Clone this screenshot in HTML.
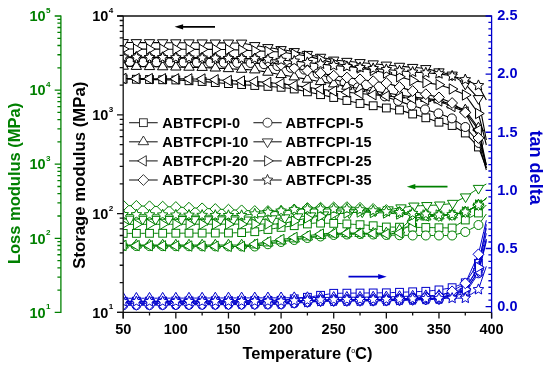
<!DOCTYPE html>
<html><head><meta charset="utf-8"><style>
html,body{margin:0;padding:0;background:#fff;}
svg{display:block;}
</style></head><body>
<svg width="550" height="367" viewBox="0 0 550 367">
<rect width="550" height="367" fill="#fff"/>
<defs><clipPath id="pc"><rect x="123.2" y="16" width="368.4" height="296.4"/></clipPath></defs>
<g clip-path="url(#pc)">
<polyline points="123.2,79 125.83,79.05 128.46,79.1 131.09,79.15 133.73,79.2 136.36,79.25 138.99,79.3 141.62,79.35 144.25,79.4 146.88,79.45 149.51,79.5 152.15,79.55 154.78,79.6 157.41,79.65 160.04,79.7 162.67,79.75 165.3,79.8 167.93,79.85 170.57,79.9 173.2,79.95 175.83,80 178.46,80.15 181.09,80.3 183.72,80.45 186.35,80.6 188.99,80.75 191.62,80.9 194.25,81.05 196.88,81.2 199.51,81.35 202.14,81.5 204.77,81.71 207.41,81.92 210.04,82.13 212.67,82.34 215.3,82.55 217.93,82.76 220.56,82.97 223.19,83.18 225.83,83.39 228.46,83.6 231.09,83.79 233.72,83.98 236.35,84.17 238.98,84.36 241.61,84.55 244.25,84.74 246.88,84.93 249.51,85.12 252.14,85.31 254.77,85.5 257.4,85.68 260.03,85.86 262.67,86.04 265.3,86.22 267.93,86.4 270.56,86.58 273.19,86.76 275.82,86.94 278.45,87.12 281.09,87.3 283.72,87.64 286.35,87.98 288.98,88.32 291.61,88.66 294.24,89 296.87,89.57 299.51,90.13 302.14,90.7 304.77,91.27 307.4,91.83 310.03,92.4 312.66,92.97 315.29,93.53 317.93,94.1 320.56,94.67 323.19,95.23 325.82,95.8 328.45,96.37 331.08,96.93 333.71,97.5 336.35,98.1 338.98,98.7 341.61,99.3 344.24,99.9 346.87,100.5 349.5,101.1 352.13,101.7 354.77,102.3 357.4,102.9 360.03,103.5 362.66,103.95 365.29,104.4 367.92,104.85 370.55,105.3 373.19,105.75 375.82,106.2 378.45,106.65 381.08,107.1 383.71,107.55 386.34,108 388.97,108.4 391.61,108.8 394.24,109.2 396.87,109.6 399.5,110 402.13,110.8 404.76,111.6 407.39,112.4 410.03,113.2 412.66,114 415.29,114.76 417.92,115.52 420.55,116.28 423.18,117.04 425.81,117.8 428.45,118.68 431.08,119.56 433.71,120.44 436.34,121.32 438.97,122.2 441.6,122.86 444.23,123.52 446.87,124.18 449.5,124.84 452.13,125.5 454.76,127 457.39,128.5 460.02,130 462.65,131.5 465.29,133 467.92,135.8 470.55,138.6 473.18,141.4 475.81,144.2 478.44,147 481.07,154 483.71,161 486.34,168" fill="none" stroke="#000" stroke-width="1.1"/>
<rect x="119.3" y="75.1" width="7.8" height="7.8" fill="#fff" stroke="#000" stroke-width="1.0"/>
<rect x="132.46" y="75.35" width="7.8" height="7.8" fill="#fff" stroke="#000" stroke-width="1.0"/>
<rect x="145.61" y="75.6" width="7.8" height="7.8" fill="#fff" stroke="#000" stroke-width="1.0"/>
<rect x="158.77" y="75.85" width="7.8" height="7.8" fill="#fff" stroke="#000" stroke-width="1.0"/>
<rect x="171.93" y="76.1" width="7.8" height="7.8" fill="#fff" stroke="#000" stroke-width="1.0"/>
<rect x="185.09" y="76.85" width="7.8" height="7.8" fill="#fff" stroke="#000" stroke-width="1.0"/>
<rect x="198.24" y="77.6" width="7.8" height="7.8" fill="#fff" stroke="#000" stroke-width="1.0"/>
<rect x="211.4" y="78.65" width="7.8" height="7.8" fill="#fff" stroke="#000" stroke-width="1.0"/>
<rect x="224.56" y="79.7" width="7.8" height="7.8" fill="#fff" stroke="#000" stroke-width="1.0"/>
<rect x="237.71" y="80.65" width="7.8" height="7.8" fill="#fff" stroke="#000" stroke-width="1.0"/>
<rect x="250.87" y="81.6" width="7.8" height="7.8" fill="#fff" stroke="#000" stroke-width="1.0"/>
<rect x="264.03" y="82.5" width="7.8" height="7.8" fill="#fff" stroke="#000" stroke-width="1.0"/>
<rect x="277.19" y="83.4" width="7.8" height="7.8" fill="#fff" stroke="#000" stroke-width="1.0"/>
<rect x="290.34" y="85.1" width="7.8" height="7.8" fill="#fff" stroke="#000" stroke-width="1.0"/>
<rect x="303.5" y="87.93" width="7.8" height="7.8" fill="#fff" stroke="#000" stroke-width="1.0"/>
<rect x="316.66" y="90.77" width="7.8" height="7.8" fill="#fff" stroke="#000" stroke-width="1.0"/>
<rect x="329.81" y="93.6" width="7.8" height="7.8" fill="#fff" stroke="#000" stroke-width="1.0"/>
<rect x="342.97" y="96.6" width="7.8" height="7.8" fill="#fff" stroke="#000" stroke-width="1.0"/>
<rect x="356.13" y="99.6" width="7.8" height="7.8" fill="#fff" stroke="#000" stroke-width="1.0"/>
<rect x="369.29" y="101.85" width="7.8" height="7.8" fill="#fff" stroke="#000" stroke-width="1.0"/>
<rect x="382.44" y="104.1" width="7.8" height="7.8" fill="#fff" stroke="#000" stroke-width="1.0"/>
<rect x="395.6" y="106.1" width="7.8" height="7.8" fill="#fff" stroke="#000" stroke-width="1.0"/>
<rect x="408.76" y="110.1" width="7.8" height="7.8" fill="#fff" stroke="#000" stroke-width="1.0"/>
<rect x="421.91" y="113.9" width="7.8" height="7.8" fill="#fff" stroke="#000" stroke-width="1.0"/>
<rect x="435.07" y="118.3" width="7.8" height="7.8" fill="#fff" stroke="#000" stroke-width="1.0"/>
<rect x="448.23" y="121.6" width="7.8" height="7.8" fill="#fff" stroke="#000" stroke-width="1.0"/>
<rect x="461.39" y="129.1" width="7.8" height="7.8" fill="#fff" stroke="#000" stroke-width="1.0"/>
<rect x="474.54" y="143.1" width="7.8" height="7.8" fill="#fff" stroke="#000" stroke-width="1.0"/>
<polyline points="123.2,62 125.83,62.02 128.46,62.04 131.09,62.06 133.73,62.08 136.36,62.1 138.99,62.12 141.62,62.14 144.25,62.16 146.88,62.18 149.51,62.2 152.15,62.22 154.78,62.24 157.41,62.26 160.04,62.28 162.67,62.3 165.3,62.32 167.93,62.34 170.57,62.36 173.2,62.38 175.83,62.4 178.46,62.42 181.09,62.44 183.72,62.46 186.35,62.48 188.99,62.5 191.62,62.52 194.25,62.54 196.88,62.56 199.51,62.58 202.14,62.6 204.77,62.62 207.41,62.64 210.04,62.66 212.67,62.68 215.3,62.7 217.93,62.72 220.56,62.74 223.19,62.76 225.83,62.78 228.46,62.8 231.09,62.82 233.72,62.84 236.35,62.86 238.98,62.88 241.61,62.9 244.25,62.92 246.88,62.94 249.51,62.96 252.14,62.98 254.77,63 257.4,63.35 260.03,63.7 262.67,64.05 265.3,64.4 267.93,64.75 270.56,65.1 273.19,65.45 275.82,65.8 278.45,66.15 281.09,66.5 283.72,66.85 286.35,67.2 288.98,67.55 291.61,67.9 294.24,68.25 296.87,68.6 299.51,68.95 302.14,69.3 304.77,69.65 307.4,70 310.03,70.9 312.66,71.8 315.29,72.7 317.93,73.6 320.56,74.5 323.19,75.4 325.82,76.3 328.45,77.2 331.08,78.1 333.71,79 336.35,79.9 338.98,80.8 341.61,81.7 344.24,82.6 346.87,83.5 349.5,84.4 352.13,85.3 354.77,86.2 357.4,87.1 360.03,88 362.66,88.89 365.29,89.78 367.92,90.67 370.55,91.56 373.19,92.45 375.82,93.34 378.45,94.23 381.08,95.12 383.71,96.01 386.34,96.9 388.97,97.79 391.61,98.68 394.24,99.57 396.87,100.46 399.5,101.35 402.13,102.24 404.76,103.13 407.39,104.02 410.03,104.91 412.66,105.8 415.29,106.57 417.92,107.34 420.55,108.11 423.18,108.88 425.81,109.65 428.45,110.42 431.08,111.19 433.71,111.96 436.34,112.73 438.97,113.5 441.6,114.5 444.23,115.5 446.87,116.5 449.5,117.5 452.13,118.5 454.76,120.2 457.39,121.9 460.02,123.6 462.65,125.3 465.29,127 467.92,130 470.55,133 473.18,136 475.81,139 478.44,142 481.07,151.33 483.71,160.67 486.34,170" fill="none" stroke="#000" stroke-width="1.1"/>
<circle cx="129.78" cy="62.05" r="4.5" fill="#fff" stroke="#000" stroke-width="1.0"/>
<circle cx="143.2" cy="62.15" r="4.5" fill="#fff" stroke="#000" stroke-width="1.0"/>
<circle cx="156.62" cy="62.25" r="4.5" fill="#fff" stroke="#000" stroke-width="1.0"/>
<circle cx="170.04" cy="62.36" r="4.5" fill="#fff" stroke="#000" stroke-width="1.0"/>
<circle cx="183.46" cy="62.46" r="4.5" fill="#fff" stroke="#000" stroke-width="1.0"/>
<circle cx="196.88" cy="62.56" r="4.5" fill="#fff" stroke="#000" stroke-width="1.0"/>
<circle cx="210.3" cy="62.66" r="4.5" fill="#fff" stroke="#000" stroke-width="1.0"/>
<circle cx="223.72" cy="62.76" r="4.5" fill="#fff" stroke="#000" stroke-width="1.0"/>
<circle cx="237.14" cy="62.87" r="4.5" fill="#fff" stroke="#000" stroke-width="1.0"/>
<circle cx="250.56" cy="62.97" r="4.5" fill="#fff" stroke="#000" stroke-width="1.0"/>
<circle cx="263.98" cy="64.22" r="4.5" fill="#fff" stroke="#000" stroke-width="1.0"/>
<circle cx="277.4" cy="66.01" r="4.5" fill="#fff" stroke="#000" stroke-width="1.0"/>
<circle cx="290.82" cy="67.8" r="4.5" fill="#fff" stroke="#000" stroke-width="1.0"/>
<circle cx="304.24" cy="69.58" r="4.5" fill="#fff" stroke="#000" stroke-width="1.0"/>
<circle cx="317.66" cy="73.51" r="4.5" fill="#fff" stroke="#000" stroke-width="1.0"/>
<circle cx="331.08" cy="78.1" r="4.5" fill="#fff" stroke="#000" stroke-width="1.0"/>
<circle cx="344.5" cy="82.69" r="4.5" fill="#fff" stroke="#000" stroke-width="1.0"/>
<circle cx="357.92" cy="87.28" r="4.5" fill="#fff" stroke="#000" stroke-width="1.0"/>
<circle cx="371.34" cy="91.83" r="4.5" fill="#fff" stroke="#000" stroke-width="1.0"/>
<circle cx="384.76" cy="96.37" r="4.5" fill="#fff" stroke="#000" stroke-width="1.0"/>
<circle cx="398.18" cy="100.91" r="4.5" fill="#fff" stroke="#000" stroke-width="1.0"/>
<circle cx="411.6" cy="105.44" r="4.5" fill="#fff" stroke="#000" stroke-width="1.0"/>
<circle cx="425.02" cy="109.42" r="4.5" fill="#fff" stroke="#000" stroke-width="1.0"/>
<circle cx="438.45" cy="113.35" r="4.5" fill="#fff" stroke="#000" stroke-width="1.0"/>
<circle cx="451.87" cy="118.4" r="4.5" fill="#fff" stroke="#000" stroke-width="1.0"/>
<circle cx="465.29" cy="127" r="4.5" fill="#fff" stroke="#000" stroke-width="1.0"/>
<circle cx="478.71" cy="142.93" r="4.5" fill="#fff" stroke="#000" stroke-width="1.0"/>
<polyline points="123.2,66.3 125.83,66.34 128.46,66.38 131.09,66.42 133.73,66.46 136.36,66.5 138.99,66.54 141.62,66.58 144.25,66.62 146.88,66.66 149.51,66.7 152.15,66.74 154.78,66.78 157.41,66.82 160.04,66.86 162.67,66.9 165.3,66.94 167.93,66.98 170.57,67.02 173.2,67.06 175.83,67.1 178.46,67.14 181.09,67.18 183.72,67.22 186.35,67.26 188.99,67.3 191.62,67.34 194.25,67.38 196.88,67.42 199.51,67.46 202.14,67.5 204.77,67.62 207.41,67.75 210.04,67.88 212.67,68 215.3,68.12 217.93,68.25 220.56,68.38 223.19,68.5 225.83,68.62 228.46,68.75 231.09,68.88 233.72,69 236.35,69.12 238.98,69.25 241.61,69.38 244.25,69.5 246.88,69.62 249.51,69.75 252.14,69.88 254.77,70 257.4,70.47 260.03,70.93 262.67,71.4 265.3,71.87 267.93,72.33 270.56,72.8 273.19,73.27 275.82,73.73 278.45,74.2 281.09,74.67 283.72,75.13 286.35,75.6 288.98,76.07 291.61,76.53 294.24,77 296.87,77.47 299.51,77.93 302.14,78.4 304.77,78.87 307.4,79.33 310.03,79.8 312.66,80.27 315.29,80.73 317.93,81.2 320.56,81.67 323.19,82.13 325.82,82.6 328.45,83.07 331.08,83.53 333.71,84 336.35,84.47 338.98,84.93 341.61,85.4 344.24,85.87 346.87,86.33 349.5,86.8 352.13,87.27 354.77,87.73 357.4,88.2 360.03,88.67 362.66,89.13 365.29,89.6 367.92,90.07 370.55,90.53 373.19,91 375.82,91.4 378.45,91.8 381.08,92.2 383.71,92.6 386.34,93 388.97,93.4 391.61,93.8 394.24,94.2 396.87,94.6 399.5,95 402.13,95.4 404.76,95.8 407.39,96.2 410.03,96.6 412.66,97 415.29,97.3 417.92,97.6 420.55,97.9 423.18,98.2 425.81,98.5 428.45,98.8 431.08,99.1 433.71,99.4 436.34,99.7 438.97,100 441.6,101 444.23,102 446.87,103 449.5,104 452.13,105 454.76,106 457.39,107 460.02,108 462.65,109 465.29,110 467.92,113.6 470.55,117.2 473.18,120.8 475.81,124.4 478.44,128 481.07,140.33 483.71,152.67 486.34,165" fill="none" stroke="#000" stroke-width="1.1"/>
<polygon points="123.2,60.5 128.4,69.2 118,69.2" fill="#fff" stroke="#000" stroke-width="1.0"/>
<polygon points="136.36,60.7 141.56,69.4 131.16,69.4" fill="#fff" stroke="#000" stroke-width="1.0"/>
<polygon points="149.51,60.9 154.71,69.6 144.31,69.6" fill="#fff" stroke="#000" stroke-width="1.0"/>
<polygon points="162.67,61.1 167.87,69.8 157.47,69.8" fill="#fff" stroke="#000" stroke-width="1.0"/>
<polygon points="175.83,61.3 181.03,70 170.63,70" fill="#fff" stroke="#000" stroke-width="1.0"/>
<polygon points="188.99,61.5 194.19,70.2 183.79,70.2" fill="#fff" stroke="#000" stroke-width="1.0"/>
<polygon points="202.14,61.7 207.34,70.4 196.94,70.4" fill="#fff" stroke="#000" stroke-width="1.0"/>
<polygon points="215.3,62.33 220.5,71.03 210.1,71.03" fill="#fff" stroke="#000" stroke-width="1.0"/>
<polygon points="228.46,62.95 233.66,71.65 223.26,71.65" fill="#fff" stroke="#000" stroke-width="1.0"/>
<polygon points="241.61,63.58 246.81,72.28 236.41,72.28" fill="#fff" stroke="#000" stroke-width="1.0"/>
<polygon points="254.77,64.2 259.97,72.9 249.57,72.9" fill="#fff" stroke="#000" stroke-width="1.0"/>
<polygon points="267.93,66.53 273.13,75.23 262.73,75.23" fill="#fff" stroke="#000" stroke-width="1.0"/>
<polygon points="281.09,68.87 286.29,77.57 275.89,77.57" fill="#fff" stroke="#000" stroke-width="1.0"/>
<polygon points="294.24,71.2 299.44,79.9 289.04,79.9" fill="#fff" stroke="#000" stroke-width="1.0"/>
<polygon points="307.4,73.53 312.6,82.23 302.2,82.23" fill="#fff" stroke="#000" stroke-width="1.0"/>
<polygon points="320.56,75.87 325.76,84.57 315.36,84.57" fill="#fff" stroke="#000" stroke-width="1.0"/>
<polygon points="333.71,78.2 338.91,86.9 328.51,86.9" fill="#fff" stroke="#000" stroke-width="1.0"/>
<polygon points="346.87,80.53 352.07,89.23 341.67,89.23" fill="#fff" stroke="#000" stroke-width="1.0"/>
<polygon points="360.03,82.87 365.23,91.57 354.83,91.57" fill="#fff" stroke="#000" stroke-width="1.0"/>
<polygon points="373.19,85.2 378.39,93.9 367.99,93.9" fill="#fff" stroke="#000" stroke-width="1.0"/>
<polygon points="386.34,87.2 391.54,95.9 381.14,95.9" fill="#fff" stroke="#000" stroke-width="1.0"/>
<polygon points="399.5,89.2 404.7,97.9 394.3,97.9" fill="#fff" stroke="#000" stroke-width="1.0"/>
<polygon points="412.66,91.2 417.86,99.9 407.46,99.9" fill="#fff" stroke="#000" stroke-width="1.0"/>
<polygon points="425.81,92.7 431.01,101.4 420.61,101.4" fill="#fff" stroke="#000" stroke-width="1.0"/>
<polygon points="438.97,94.2 444.17,102.9 433.77,102.9" fill="#fff" stroke="#000" stroke-width="1.0"/>
<polygon points="452.13,99.2 457.33,107.9 446.93,107.9" fill="#fff" stroke="#000" stroke-width="1.0"/>
<polygon points="465.29,104.2 470.49,112.9 460.09,112.9" fill="#fff" stroke="#000" stroke-width="1.0"/>
<polygon points="478.44,122.2 483.64,130.9 473.24,130.9" fill="#fff" stroke="#000" stroke-width="1.0"/>
<polyline points="123.2,42.5 125.83,42.51 128.46,42.52 131.09,42.53 133.73,42.54 136.36,42.56 138.99,42.57 141.62,42.58 144.25,42.59 146.88,42.6 149.51,42.61 152.15,42.62 154.78,42.63 157.41,42.64 160.04,42.66 162.67,42.67 165.3,42.68 167.93,42.69 170.57,42.7 173.2,42.71 175.83,42.72 178.46,42.73 181.09,42.74 183.72,42.76 186.35,42.77 188.99,42.78 191.62,42.79 194.25,42.8 196.88,42.81 199.51,42.82 202.14,42.83 204.77,42.84 207.41,42.86 210.04,42.87 212.67,42.88 215.3,42.89 217.93,42.9 220.56,42.91 223.19,42.92 225.83,42.93 228.46,42.94 231.09,42.96 233.72,42.97 236.35,42.98 238.98,42.99 241.61,43 244.25,43.5 246.88,44 249.51,44.5 252.14,45 254.77,45.5 257.4,45.9 260.03,46.3 262.67,46.7 265.3,47.1 267.93,47.5 270.56,47.9 273.19,48.3 275.82,48.7 278.45,49.1 281.09,49.5 283.72,49.9 286.35,50.3 288.98,50.7 291.61,51.1 294.24,51.5 296.87,52.07 299.51,52.63 302.14,53.2 304.77,53.77 307.4,54.33 310.03,54.9 312.66,55.47 315.29,56.03 317.93,56.6 320.56,57.17 323.19,57.73 325.82,58.3 328.45,58.87 331.08,59.43 333.71,60 336.35,60.25 338.98,60.5 341.61,60.75 344.24,61 346.87,61.25 349.5,61.5 352.13,61.75 354.77,62 357.4,62.25 360.03,62.5 362.66,62.75 365.29,63 367.92,63.25 370.55,63.5 373.19,63.75 375.82,64 378.45,64.25 381.08,64.5 383.71,64.75 386.34,65 388.97,65.23 391.61,65.47 394.24,65.7 396.87,65.93 399.5,66.17 402.13,66.4 404.76,66.63 407.39,66.87 410.03,67.1 412.66,67.33 415.29,67.57 417.92,67.8 420.55,68.03 423.18,68.27 425.81,68.5 428.45,69.15 431.08,69.8 433.71,70.45 436.34,71.1 438.97,71.75 441.6,72.4 444.23,73.05 446.87,73.7 449.5,74.35 452.13,75 454.76,76.8 457.39,78.6 460.02,80.4 462.65,82.2 465.29,84 467.92,86.9 470.55,89.8 473.18,92.7 475.81,95.6 478.44,98.5 481.07,112.33 483.71,126.17 486.34,140" fill="none" stroke="#000" stroke-width="1.1"/>
<polygon points="123.2,48.3 128.4,39.6 118,39.6" fill="#fff" stroke="#000" stroke-width="1.0"/>
<polygon points="136.36,48.36 141.56,39.66 131.16,39.66" fill="#fff" stroke="#000" stroke-width="1.0"/>
<polygon points="149.51,48.41 154.71,39.71 144.31,39.71" fill="#fff" stroke="#000" stroke-width="1.0"/>
<polygon points="162.67,48.47 167.87,39.77 157.47,39.77" fill="#fff" stroke="#000" stroke-width="1.0"/>
<polygon points="175.83,48.52 181.03,39.82 170.63,39.82" fill="#fff" stroke="#000" stroke-width="1.0"/>
<polygon points="188.99,48.58 194.19,39.88 183.79,39.88" fill="#fff" stroke="#000" stroke-width="1.0"/>
<polygon points="202.14,48.63 207.34,39.93 196.94,39.93" fill="#fff" stroke="#000" stroke-width="1.0"/>
<polygon points="215.3,48.69 220.5,39.99 210.1,39.99" fill="#fff" stroke="#000" stroke-width="1.0"/>
<polygon points="228.46,48.74 233.66,40.04 223.26,40.04" fill="#fff" stroke="#000" stroke-width="1.0"/>
<polygon points="241.61,48.8 246.81,40.1 236.41,40.1" fill="#fff" stroke="#000" stroke-width="1.0"/>
<polygon points="254.77,51.3 259.97,42.6 249.57,42.6" fill="#fff" stroke="#000" stroke-width="1.0"/>
<polygon points="267.93,53.3 273.13,44.6 262.73,44.6" fill="#fff" stroke="#000" stroke-width="1.0"/>
<polygon points="281.09,55.3 286.29,46.6 275.89,46.6" fill="#fff" stroke="#000" stroke-width="1.0"/>
<polygon points="294.24,57.3 299.44,48.6 289.04,48.6" fill="#fff" stroke="#000" stroke-width="1.0"/>
<polygon points="307.4,60.13 312.6,51.43 302.2,51.43" fill="#fff" stroke="#000" stroke-width="1.0"/>
<polygon points="320.56,62.97 325.76,54.27 315.36,54.27" fill="#fff" stroke="#000" stroke-width="1.0"/>
<polygon points="333.71,65.8 338.91,57.1 328.51,57.1" fill="#fff" stroke="#000" stroke-width="1.0"/>
<polygon points="346.87,67.05 352.07,58.35 341.67,58.35" fill="#fff" stroke="#000" stroke-width="1.0"/>
<polygon points="360.03,68.3 365.23,59.6 354.83,59.6" fill="#fff" stroke="#000" stroke-width="1.0"/>
<polygon points="373.19,69.55 378.39,60.85 367.99,60.85" fill="#fff" stroke="#000" stroke-width="1.0"/>
<polygon points="386.34,70.8 391.54,62.1 381.14,62.1" fill="#fff" stroke="#000" stroke-width="1.0"/>
<polygon points="399.5,71.97 404.7,63.27 394.3,63.27" fill="#fff" stroke="#000" stroke-width="1.0"/>
<polygon points="412.66,73.13 417.86,64.43 407.46,64.43" fill="#fff" stroke="#000" stroke-width="1.0"/>
<polygon points="425.81,74.3 431.01,65.6 420.61,65.6" fill="#fff" stroke="#000" stroke-width="1.0"/>
<polygon points="438.97,77.55 444.17,68.85 433.77,68.85" fill="#fff" stroke="#000" stroke-width="1.0"/>
<polygon points="452.13,80.8 457.33,72.1 446.93,72.1" fill="#fff" stroke="#000" stroke-width="1.0"/>
<polygon points="465.29,89.8 470.49,81.1 460.09,81.1" fill="#fff" stroke="#000" stroke-width="1.0"/>
<polygon points="478.44,104.3 483.64,95.6 473.24,95.6" fill="#fff" stroke="#000" stroke-width="1.0"/>
<polyline points="123.2,78.5 125.83,78.52 128.46,78.53 131.09,78.55 133.73,78.57 136.36,78.58 138.99,78.6 141.62,78.62 144.25,78.63 146.88,78.65 149.51,78.67 152.15,78.68 154.78,78.7 157.41,78.72 160.04,78.73 162.67,78.75 165.3,78.77 167.93,78.78 170.57,78.8 173.2,78.82 175.83,78.83 178.46,78.85 181.09,78.87 183.72,78.88 186.35,78.9 188.99,78.92 191.62,78.93 194.25,78.95 196.88,78.97 199.51,78.98 202.14,79 204.77,79.15 207.41,79.3 210.04,79.45 212.67,79.6 215.3,79.75 217.93,79.9 220.56,80.05 223.19,80.2 225.83,80.35 228.46,80.5 231.09,80.6 233.72,80.7 236.35,80.8 238.98,80.9 241.61,81 244.25,81.1 246.88,81.2 249.51,81.3 252.14,81.4 254.77,81.5 257.4,81.71 260.03,81.92 262.67,82.13 265.3,82.34 267.93,82.55 270.56,82.76 273.19,82.97 275.82,83.18 278.45,83.39 281.09,83.6 283.72,83.98 286.35,84.36 288.98,84.74 291.61,85.12 294.24,85.5 296.87,85.87 299.51,86.23 302.14,86.6 304.77,86.97 307.4,87.33 310.03,87.7 312.66,88.07 315.29,88.43 317.93,88.8 320.56,89.17 323.19,89.53 325.82,89.9 328.45,90.27 331.08,90.63 333.71,91 336.35,91.25 338.98,91.5 341.61,91.75 344.24,92 346.87,92.25 349.5,92.5 352.13,92.75 354.77,93 357.4,93.25 360.03,93.5 362.66,93.75 365.29,94 367.92,94.25 370.55,94.5 373.19,94.75 375.82,95 378.45,95.25 381.08,95.5 383.71,95.75 386.34,96 388.97,96.25 391.61,96.5 394.24,96.75 396.87,97 399.5,97.25 402.13,97.5 404.76,97.75 407.39,98 410.03,98.25 412.66,98.5 415.29,98.75 417.92,99 420.55,99.25 423.18,99.5 425.81,99.75 428.45,100 431.08,100.25 433.71,100.5 436.34,100.75 438.97,101 441.6,102.1 444.23,103.2 446.87,104.3 449.5,105.4 452.13,106.5 454.76,107.6 457.39,108.7 460.02,109.8 462.65,110.9 465.29,112 467.92,115.6 470.55,119.2 473.18,122.8 475.81,126.4 478.44,130 481.07,142.67 483.71,155.33 486.34,168" fill="none" stroke="#000" stroke-width="1.1"/>
<polygon points="117.4,78.5 126.1,73.3 126.1,83.7" fill="#fff" stroke="#000" stroke-width="1.0"/>
<polygon points="130.56,78.58 139.26,73.38 139.26,83.78" fill="#fff" stroke="#000" stroke-width="1.0"/>
<polygon points="143.71,78.67 152.41,73.47 152.41,83.87" fill="#fff" stroke="#000" stroke-width="1.0"/>
<polygon points="156.87,78.75 165.57,73.55 165.57,83.95" fill="#fff" stroke="#000" stroke-width="1.0"/>
<polygon points="170.03,78.83 178.73,73.63 178.73,84.03" fill="#fff" stroke="#000" stroke-width="1.0"/>
<polygon points="183.19,78.92 191.89,73.72 191.89,84.12" fill="#fff" stroke="#000" stroke-width="1.0"/>
<polygon points="196.34,79 205.04,73.8 205.04,84.2" fill="#fff" stroke="#000" stroke-width="1.0"/>
<polygon points="209.5,79.75 218.2,74.55 218.2,84.95" fill="#fff" stroke="#000" stroke-width="1.0"/>
<polygon points="222.66,80.5 231.36,75.3 231.36,85.7" fill="#fff" stroke="#000" stroke-width="1.0"/>
<polygon points="235.81,81 244.51,75.8 244.51,86.2" fill="#fff" stroke="#000" stroke-width="1.0"/>
<polygon points="248.97,81.5 257.67,76.3 257.67,86.7" fill="#fff" stroke="#000" stroke-width="1.0"/>
<polygon points="262.13,82.55 270.83,77.35 270.83,87.75" fill="#fff" stroke="#000" stroke-width="1.0"/>
<polygon points="275.29,83.6 283.99,78.4 283.99,88.8" fill="#fff" stroke="#000" stroke-width="1.0"/>
<polygon points="288.44,85.5 297.14,80.3 297.14,90.7" fill="#fff" stroke="#000" stroke-width="1.0"/>
<polygon points="301.6,87.33 310.3,82.13 310.3,92.53" fill="#fff" stroke="#000" stroke-width="1.0"/>
<polygon points="314.76,89.17 323.46,83.97 323.46,94.37" fill="#fff" stroke="#000" stroke-width="1.0"/>
<polygon points="327.91,91 336.61,85.8 336.61,96.2" fill="#fff" stroke="#000" stroke-width="1.0"/>
<polygon points="341.07,92.25 349.77,87.05 349.77,97.45" fill="#fff" stroke="#000" stroke-width="1.0"/>
<polygon points="354.23,93.5 362.93,88.3 362.93,98.7" fill="#fff" stroke="#000" stroke-width="1.0"/>
<polygon points="367.39,94.75 376.09,89.55 376.09,99.95" fill="#fff" stroke="#000" stroke-width="1.0"/>
<polygon points="380.54,96 389.24,90.8 389.24,101.2" fill="#fff" stroke="#000" stroke-width="1.0"/>
<polygon points="393.7,97.25 402.4,92.05 402.4,102.45" fill="#fff" stroke="#000" stroke-width="1.0"/>
<polygon points="406.86,98.5 415.56,93.3 415.56,103.7" fill="#fff" stroke="#000" stroke-width="1.0"/>
<polygon points="420.01,99.75 428.71,94.55 428.71,104.95" fill="#fff" stroke="#000" stroke-width="1.0"/>
<polygon points="433.17,101 441.87,95.8 441.87,106.2" fill="#fff" stroke="#000" stroke-width="1.0"/>
<polygon points="446.33,106.5 455.03,101.3 455.03,111.7" fill="#fff" stroke="#000" stroke-width="1.0"/>
<polygon points="459.49,112 468.19,106.8 468.19,117.2" fill="#fff" stroke="#000" stroke-width="1.0"/>
<polygon points="472.64,130 481.34,124.8 481.34,135.2" fill="#fff" stroke="#000" stroke-width="1.0"/>
<polyline points="123.2,49 125.83,49.01 128.46,49.02 131.09,49.04 133.73,49.05 136.36,49.06 138.99,49.08 141.62,49.09 144.25,49.1 146.88,49.11 149.51,49.12 152.15,49.14 154.78,49.15 157.41,49.16 160.04,49.17 162.67,49.19 165.3,49.2 167.93,49.21 170.57,49.23 173.2,49.24 175.83,49.25 178.46,49.26 181.09,49.27 183.72,49.29 186.35,49.3 188.99,49.31 191.62,49.33 194.25,49.34 196.88,49.35 199.51,49.36 202.14,49.38 204.77,49.39 207.41,49.4 210.04,49.41 212.67,49.42 215.3,49.44 217.93,49.45 220.56,49.46 223.19,49.48 225.83,49.49 228.46,49.5 231.09,49.62 233.72,49.75 236.35,49.88 238.98,50 241.61,50.12 244.25,50.25 246.88,50.38 249.51,50.5 252.14,50.62 254.77,50.75 257.4,50.88 260.03,51 262.67,51.12 265.3,51.25 267.93,51.38 270.56,51.5 273.19,51.62 275.82,51.75 278.45,51.88 281.09,52 283.72,52.4 286.35,52.8 288.98,53.2 291.61,53.6 294.24,54 296.87,54.4 299.51,54.8 302.14,55.2 304.77,55.6 307.4,56 310.03,56.7 312.66,57.4 315.29,58.1 317.93,58.8 320.56,59.5 323.19,60.2 325.82,60.9 328.45,61.6 331.08,62.3 333.71,63 336.35,63.5 338.98,64 341.61,64.5 344.24,65 346.87,65.5 349.5,66 352.13,66.5 354.77,67 357.4,67.5 360.03,68 362.66,68.5 365.29,69 367.92,69.5 370.55,70 373.19,70.5 375.82,71 378.45,71.5 381.08,72 383.71,72.5 386.34,73 388.97,73.75 391.61,74.5 394.24,75.25 396.87,76 399.5,76.75 402.13,77.5 404.76,78.25 407.39,79 410.03,79.75 412.66,80.5 415.29,80.92 417.92,81.34 420.55,81.76 423.18,82.18 425.81,82.6 428.45,83.02 431.08,83.44 433.71,83.86 436.34,84.28 438.97,84.7 441.6,85.56 444.23,86.42 446.87,87.28 449.5,88.14 452.13,89 454.76,90.2 457.39,91.4 460.02,92.6 462.65,93.8 465.29,95 467.92,98.7 470.55,102.4 473.18,106.1 475.81,109.8 478.44,113.5 481.07,124 483.71,134.5 486.34,145" fill="none" stroke="#000" stroke-width="1.1"/>
<polygon points="129,49 120.3,43.8 120.3,54.2" fill="#fff" stroke="#000" stroke-width="1.0"/>
<polygon points="142.16,49.06 133.46,43.86 133.46,54.26" fill="#fff" stroke="#000" stroke-width="1.0"/>
<polygon points="155.31,49.12 146.61,43.92 146.61,54.33" fill="#fff" stroke="#000" stroke-width="1.0"/>
<polygon points="168.47,49.19 159.77,43.99 159.77,54.39" fill="#fff" stroke="#000" stroke-width="1.0"/>
<polygon points="181.63,49.25 172.93,44.05 172.93,54.45" fill="#fff" stroke="#000" stroke-width="1.0"/>
<polygon points="194.79,49.31 186.09,44.11 186.09,54.51" fill="#fff" stroke="#000" stroke-width="1.0"/>
<polygon points="207.94,49.38 199.24,44.17 199.24,54.58" fill="#fff" stroke="#000" stroke-width="1.0"/>
<polygon points="221.1,49.44 212.4,44.24 212.4,54.64" fill="#fff" stroke="#000" stroke-width="1.0"/>
<polygon points="234.26,49.5 225.56,44.3 225.56,54.7" fill="#fff" stroke="#000" stroke-width="1.0"/>
<polygon points="247.41,50.12 238.71,44.92 238.71,55.33" fill="#fff" stroke="#000" stroke-width="1.0"/>
<polygon points="260.57,50.75 251.87,45.55 251.87,55.95" fill="#fff" stroke="#000" stroke-width="1.0"/>
<polygon points="273.73,51.38 265.03,46.17 265.03,56.58" fill="#fff" stroke="#000" stroke-width="1.0"/>
<polygon points="286.89,52 278.19,46.8 278.19,57.2" fill="#fff" stroke="#000" stroke-width="1.0"/>
<polygon points="300.04,54 291.34,48.8 291.34,59.2" fill="#fff" stroke="#000" stroke-width="1.0"/>
<polygon points="313.2,56 304.5,50.8 304.5,61.2" fill="#fff" stroke="#000" stroke-width="1.0"/>
<polygon points="326.36,59.5 317.66,54.3 317.66,64.7" fill="#fff" stroke="#000" stroke-width="1.0"/>
<polygon points="339.51,63 330.81,57.8 330.81,68.2" fill="#fff" stroke="#000" stroke-width="1.0"/>
<polygon points="352.67,65.5 343.97,60.3 343.97,70.7" fill="#fff" stroke="#000" stroke-width="1.0"/>
<polygon points="365.83,68 357.13,62.8 357.13,73.2" fill="#fff" stroke="#000" stroke-width="1.0"/>
<polygon points="378.99,70.5 370.29,65.3 370.29,75.7" fill="#fff" stroke="#000" stroke-width="1.0"/>
<polygon points="392.14,73 383.44,67.8 383.44,78.2" fill="#fff" stroke="#000" stroke-width="1.0"/>
<polygon points="405.3,76.75 396.6,71.55 396.6,81.95" fill="#fff" stroke="#000" stroke-width="1.0"/>
<polygon points="418.46,80.5 409.76,75.3 409.76,85.7" fill="#fff" stroke="#000" stroke-width="1.0"/>
<polygon points="431.61,82.6 422.91,77.4 422.91,87.8" fill="#fff" stroke="#000" stroke-width="1.0"/>
<polygon points="444.77,84.7 436.07,79.5 436.07,89.9" fill="#fff" stroke="#000" stroke-width="1.0"/>
<polygon points="457.93,89 449.23,83.8 449.23,94.2" fill="#fff" stroke="#000" stroke-width="1.0"/>
<polygon points="471.09,95 462.39,89.8 462.39,100.2" fill="#fff" stroke="#000" stroke-width="1.0"/>
<polygon points="484.24,113.5 475.54,108.3 475.54,118.7" fill="#fff" stroke="#000" stroke-width="1.0"/>
<polyline points="123.2,57 125.83,57.03 128.46,57.06 131.09,57.1 133.73,57.13 136.36,57.16 138.99,57.19 141.62,57.22 144.25,57.26 146.88,57.29 149.51,57.32 152.15,57.35 154.78,57.38 157.41,57.42 160.04,57.45 162.67,57.48 165.3,57.51 167.93,57.54 170.57,57.58 173.2,57.61 175.83,57.64 178.46,57.67 181.09,57.7 183.72,57.74 186.35,57.77 188.99,57.8 191.62,57.83 194.25,57.86 196.88,57.9 199.51,57.93 202.14,57.96 204.77,57.99 207.41,58.02 210.04,58.06 212.67,58.09 215.3,58.12 217.93,58.15 220.56,58.18 223.19,58.22 225.83,58.25 228.46,58.28 231.09,58.31 233.72,58.34 236.35,58.38 238.98,58.41 241.61,58.44 244.25,58.47 246.88,58.5 249.51,58.54 252.14,58.57 254.77,58.6 257.4,59.23 260.03,59.85 262.67,60.48 265.3,61.11 267.93,61.73 270.56,62.36 273.19,62.99 275.82,63.61 278.45,64.24 281.09,64.87 283.72,65.49 286.35,66.12 288.98,66.75 291.61,67.37 294.24,68 296.87,68.51 299.51,69.03 302.14,69.54 304.77,70.05 307.4,70.57 310.03,71.08 312.66,71.59 315.29,72.11 317.93,72.62 320.56,73.13 323.19,73.65 325.82,74.16 328.45,74.67 331.08,75.19 333.71,75.7 336.35,76.06 338.98,76.43 341.61,76.8 344.24,77.16 346.87,77.53 349.5,77.89 352.13,78.25 354.77,78.62 357.4,78.98 360.03,79.35 362.66,79.72 365.29,80.08 367.92,80.45 370.55,80.81 373.19,81.17 375.82,81.54 378.45,81.91 381.08,82.27 383.71,82.64 386.34,83 388.97,83.8 391.61,84.6 394.24,85.4 396.87,86.2 399.5,87 402.13,87.8 404.76,88.6 407.39,89.4 410.03,90.2 412.66,91 415.29,91.64 417.92,92.28 420.55,92.92 423.18,93.56 425.81,94.2 428.45,94.84 431.08,95.48 433.71,96.12 436.34,96.76 438.97,97.4 441.6,98.52 444.23,99.64 446.87,100.76 449.5,101.88 452.13,103 454.76,104.9 457.39,106.8 460.02,108.7 462.65,110.6 465.29,112.5 467.92,117.6 470.55,122.7 473.18,127.8 475.81,132.9 478.44,138 481.07,147 483.71,156 486.34,165" fill="none" stroke="#000" stroke-width="1.1"/>
<polygon points="123.2,51.6 128.6,57 123.2,62.4 117.8,57" fill="#fff" stroke="#000" stroke-width="1.0"/>
<polygon points="136.36,51.76 141.76,57.16 136.36,62.56 130.96,57.16" fill="#fff" stroke="#000" stroke-width="1.0"/>
<polygon points="149.51,51.92 154.91,57.32 149.51,62.72 144.11,57.32" fill="#fff" stroke="#000" stroke-width="1.0"/>
<polygon points="162.67,52.08 168.07,57.48 162.67,62.88 157.27,57.48" fill="#fff" stroke="#000" stroke-width="1.0"/>
<polygon points="175.83,52.24 181.23,57.64 175.83,63.04 170.43,57.64" fill="#fff" stroke="#000" stroke-width="1.0"/>
<polygon points="188.99,52.4 194.39,57.8 188.99,63.2 183.59,57.8" fill="#fff" stroke="#000" stroke-width="1.0"/>
<polygon points="202.14,52.56 207.54,57.96 202.14,63.36 196.74,57.96" fill="#fff" stroke="#000" stroke-width="1.0"/>
<polygon points="215.3,52.72 220.7,58.12 215.3,63.52 209.9,58.12" fill="#fff" stroke="#000" stroke-width="1.0"/>
<polygon points="228.46,52.88 233.86,58.28 228.46,63.68 223.06,58.28" fill="#fff" stroke="#000" stroke-width="1.0"/>
<polygon points="241.61,53.04 247.01,58.44 241.61,63.84 236.21,58.44" fill="#fff" stroke="#000" stroke-width="1.0"/>
<polygon points="254.77,53.2 260.17,58.6 254.77,64 249.37,58.6" fill="#fff" stroke="#000" stroke-width="1.0"/>
<polygon points="267.93,56.33 273.33,61.73 267.93,67.13 262.53,61.73" fill="#fff" stroke="#000" stroke-width="1.0"/>
<polygon points="281.09,59.47 286.49,64.87 281.09,70.27 275.69,64.87" fill="#fff" stroke="#000" stroke-width="1.0"/>
<polygon points="294.24,62.6 299.64,68 294.24,73.4 288.84,68" fill="#fff" stroke="#000" stroke-width="1.0"/>
<polygon points="307.4,65.17 312.8,70.57 307.4,75.97 302,70.57" fill="#fff" stroke="#000" stroke-width="1.0"/>
<polygon points="320.56,67.73 325.96,73.13 320.56,78.53 315.16,73.13" fill="#fff" stroke="#000" stroke-width="1.0"/>
<polygon points="333.71,70.3 339.11,75.7 333.71,81.1 328.31,75.7" fill="#fff" stroke="#000" stroke-width="1.0"/>
<polygon points="346.87,72.12 352.27,77.53 346.87,82.93 341.47,77.53" fill="#fff" stroke="#000" stroke-width="1.0"/>
<polygon points="360.03,73.95 365.43,79.35 360.03,84.75 354.63,79.35" fill="#fff" stroke="#000" stroke-width="1.0"/>
<polygon points="373.19,75.77 378.59,81.17 373.19,86.58 367.79,81.17" fill="#fff" stroke="#000" stroke-width="1.0"/>
<polygon points="386.34,77.6 391.74,83 386.34,88.4 380.94,83" fill="#fff" stroke="#000" stroke-width="1.0"/>
<polygon points="399.5,81.6 404.9,87 399.5,92.4 394.1,87" fill="#fff" stroke="#000" stroke-width="1.0"/>
<polygon points="412.66,85.6 418.06,91 412.66,96.4 407.26,91" fill="#fff" stroke="#000" stroke-width="1.0"/>
<polygon points="425.81,88.8 431.21,94.2 425.81,99.6 420.41,94.2" fill="#fff" stroke="#000" stroke-width="1.0"/>
<polygon points="438.97,92 444.37,97.4 438.97,102.8 433.57,97.4" fill="#fff" stroke="#000" stroke-width="1.0"/>
<polygon points="452.13,97.6 457.53,103 452.13,108.4 446.73,103" fill="#fff" stroke="#000" stroke-width="1.0"/>
<polygon points="465.29,107.1 470.69,112.5 465.29,117.9 459.89,112.5" fill="#fff" stroke="#000" stroke-width="1.0"/>
<polygon points="478.44,132.6 483.84,138 478.44,143.4 473.04,138" fill="#fff" stroke="#000" stroke-width="1.0"/>
<polyline points="123.2,57 125.83,57.03 128.46,57.06 131.09,57.1 133.73,57.13 136.36,57.16 138.99,57.19 141.62,57.22 144.25,57.26 146.88,57.29 149.51,57.32 152.15,57.35 154.78,57.38 157.41,57.42 160.04,57.45 162.67,57.48 165.3,57.51 167.93,57.54 170.57,57.58 173.2,57.61 175.83,57.64 178.46,57.67 181.09,57.7 183.72,57.74 186.35,57.77 188.99,57.8 191.62,57.83 194.25,57.86 196.88,57.9 199.51,57.93 202.14,57.96 204.77,57.99 207.41,58.02 210.04,58.06 212.67,58.09 215.3,58.12 217.93,58.15 220.56,58.18 223.19,58.22 225.83,58.25 228.46,58.28 231.09,58.31 233.72,58.34 236.35,58.38 238.98,58.41 241.61,58.44 244.25,58.47 246.88,58.5 249.51,58.54 252.14,58.57 254.77,58.6 257.4,58.76 260.03,58.92 262.67,59.08 265.3,59.24 267.93,59.4 270.56,59.56 273.19,59.72 275.82,59.88 278.45,60.04 281.09,60.2 283.72,60.36 286.35,60.52 288.98,60.68 291.61,60.84 294.24,61 296.87,61.3 299.51,61.6 302.14,61.9 304.77,62.2 307.4,62.5 310.03,62.8 312.66,63.1 315.29,63.4 317.93,63.7 320.56,64 323.19,64.3 325.82,64.6 328.45,64.9 331.08,65.2 333.71,65.5 336.35,65.7 338.98,65.9 341.61,66.1 344.24,66.3 346.87,66.5 349.5,66.7 352.13,66.9 354.77,67.1 357.4,67.3 360.03,67.5 362.66,67.7 365.29,67.9 367.92,68.1 370.55,68.3 373.19,68.5 375.82,68.7 378.45,68.9 381.08,69.1 383.71,69.3 386.34,69.5 388.97,69.75 391.61,70 394.24,70.25 396.87,70.5 399.5,70.75 402.13,71 404.76,71.25 407.39,71.5 410.03,71.75 412.66,72 415.29,72.17 417.92,72.34 420.55,72.51 423.18,72.68 425.81,72.85 428.45,73.02 431.08,73.19 433.71,73.36 436.34,73.53 438.97,73.7 441.6,74.16 444.23,74.62 446.87,75.08 449.5,75.54 452.13,76 454.76,76.72 457.39,77.44 460.02,78.16 462.65,78.88 465.29,79.6 467.92,80.78 470.55,81.96 473.18,83.14 475.81,84.32 478.44,85.5 481.07,90.33 483.71,95.17 486.34,100" fill="none" stroke="#000" stroke-width="1.1"/>
<polygon points="123.2,51.4 124.73,54.9 128.53,55.27 125.67,57.8 126.49,61.53 123.2,59.6 119.91,61.53 120.73,57.8 117.87,55.27 121.67,54.9" fill="#fff" stroke="#000" stroke-width="1.0"/>
<polygon points="136.36,51.56 137.89,55.06 141.68,55.43 138.83,57.96 139.65,61.69 136.36,59.76 133.07,61.69 133.88,57.96 131.03,55.43 134.83,55.06" fill="#fff" stroke="#000" stroke-width="1.0"/>
<polygon points="149.51,51.72 151.04,55.22 154.84,55.59 151.99,58.12 152.81,61.85 149.51,59.92 146.22,61.85 147.04,58.12 144.19,55.59 147.99,55.22" fill="#fff" stroke="#000" stroke-width="1.0"/>
<polygon points="162.67,51.88 164.2,55.38 168,55.75 165.14,58.28 165.96,62.01 162.67,60.08 159.38,62.01 160.2,58.28 157.35,55.75 161.14,55.38" fill="#fff" stroke="#000" stroke-width="1.0"/>
<polygon points="175.83,52.04 177.36,55.54 181.15,55.91 178.3,58.44 179.12,62.17 175.83,60.24 172.54,62.17 173.36,58.44 170.5,55.91 174.3,55.54" fill="#fff" stroke="#000" stroke-width="1.0"/>
<polygon points="188.99,52.2 190.51,55.7 194.31,56.07 191.46,58.6 192.28,62.33 188.99,60.4 185.69,62.33 186.51,58.6 183.66,56.07 187.46,55.7" fill="#fff" stroke="#000" stroke-width="1.0"/>
<polygon points="202.14,52.36 203.67,55.86 207.47,56.23 204.62,58.76 205.43,62.49 202.14,60.56 198.85,62.49 199.67,58.76 196.82,56.23 200.61,55.86" fill="#fff" stroke="#000" stroke-width="1.0"/>
<polygon points="215.3,52.52 216.83,56.02 220.63,56.39 217.77,58.92 218.59,62.65 215.3,60.72 212.01,62.65 212.83,58.92 209.97,56.39 213.77,56.02" fill="#fff" stroke="#000" stroke-width="1.0"/>
<polygon points="228.46,52.68 229.99,56.18 233.78,56.55 230.93,59.08 231.75,62.81 228.46,60.88 225.17,62.81 225.98,59.08 223.13,56.55 226.93,56.18" fill="#fff" stroke="#000" stroke-width="1.0"/>
<polygon points="241.61,52.84 243.14,56.34 246.94,56.71 244.09,59.24 244.91,62.97 241.61,61.04 238.32,62.97 239.14,59.24 236.29,56.71 240.09,56.34" fill="#fff" stroke="#000" stroke-width="1.0"/>
<polygon points="254.77,53 256.3,56.5 260.1,56.87 257.24,59.4 258.06,63.13 254.77,61.2 251.48,63.13 252.3,59.4 249.45,56.87 253.24,56.5" fill="#fff" stroke="#000" stroke-width="1.0"/>
<polygon points="267.93,53.8 269.46,57.3 273.25,57.67 270.4,60.2 271.22,63.93 267.93,62 264.64,63.93 265.46,60.2 262.6,57.67 266.4,57.3" fill="#fff" stroke="#000" stroke-width="1.0"/>
<polygon points="281.09,54.6 282.61,58.1 286.41,58.47 283.56,61 284.38,64.73 281.09,62.8 277.79,64.73 278.61,61 275.76,58.47 279.56,58.1" fill="#fff" stroke="#000" stroke-width="1.0"/>
<polygon points="294.24,55.4 295.77,58.9 299.57,59.27 296.72,61.8 297.53,65.53 294.24,63.6 290.95,65.53 291.77,61.8 288.92,59.27 292.71,58.9" fill="#fff" stroke="#000" stroke-width="1.0"/>
<polygon points="307.4,56.9 308.93,60.4 312.73,60.77 309.87,63.3 310.69,67.03 307.4,65.1 304.11,67.03 304.93,63.3 302.07,60.77 305.87,60.4" fill="#fff" stroke="#000" stroke-width="1.0"/>
<polygon points="320.56,58.4 322.09,61.9 325.88,62.27 323.03,64.8 323.85,68.53 320.56,66.6 317.27,68.53 318.08,64.8 315.23,62.27 319.03,61.9" fill="#fff" stroke="#000" stroke-width="1.0"/>
<polygon points="333.71,59.9 335.24,63.4 339.04,63.77 336.19,66.3 337.01,70.03 333.71,68.1 330.42,70.03 331.24,66.3 328.39,63.77 332.19,63.4" fill="#fff" stroke="#000" stroke-width="1.0"/>
<polygon points="346.87,60.9 348.4,64.4 352.2,64.77 349.34,67.3 350.16,71.03 346.87,69.1 343.58,71.03 344.4,67.3 341.55,64.77 345.34,64.4" fill="#fff" stroke="#000" stroke-width="1.0"/>
<polygon points="360.03,61.9 361.56,65.4 365.35,65.77 362.5,68.3 363.32,72.03 360.03,70.1 356.74,72.03 357.56,68.3 354.7,65.77 358.5,65.4" fill="#fff" stroke="#000" stroke-width="1.0"/>
<polygon points="373.19,62.9 374.71,66.4 378.51,66.77 375.66,69.3 376.48,73.03 373.19,71.1 369.89,73.03 370.71,69.3 367.86,66.77 371.66,66.4" fill="#fff" stroke="#000" stroke-width="1.0"/>
<polygon points="386.34,63.9 387.87,67.4 391.67,67.77 388.82,70.3 389.63,74.03 386.34,72.1 383.05,74.03 383.87,70.3 381.02,67.77 384.81,67.4" fill="#fff" stroke="#000" stroke-width="1.0"/>
<polygon points="399.5,65.15 401.03,68.65 404.83,69.02 401.97,71.55 402.79,75.28 399.5,73.35 396.21,75.28 397.03,71.55 394.17,69.02 397.97,68.65" fill="#fff" stroke="#000" stroke-width="1.0"/>
<polygon points="412.66,66.4 414.19,69.9 417.98,70.27 415.13,72.8 415.95,76.53 412.66,74.6 409.37,76.53 410.18,72.8 407.33,70.27 411.13,69.9" fill="#fff" stroke="#000" stroke-width="1.0"/>
<polygon points="425.81,67.25 427.34,70.75 431.14,71.12 428.29,73.65 429.11,77.38 425.81,75.45 422.52,77.38 423.34,73.65 420.49,71.12 424.29,70.75" fill="#fff" stroke="#000" stroke-width="1.0"/>
<polygon points="438.97,68.1 440.5,71.6 444.3,71.97 441.44,74.5 442.26,78.23 438.97,76.3 435.68,78.23 436.5,74.5 433.65,71.97 437.44,71.6" fill="#fff" stroke="#000" stroke-width="1.0"/>
<polygon points="452.13,70.4 453.66,73.9 457.45,74.27 454.6,76.8 455.42,80.53 452.13,78.6 448.84,80.53 449.66,76.8 446.8,74.27 450.6,73.9" fill="#fff" stroke="#000" stroke-width="1.0"/>
<polygon points="465.29,74 466.81,77.5 470.61,77.87 467.76,80.4 468.58,84.13 465.29,82.2 461.99,84.13 462.81,80.4 459.96,77.87 463.76,77.5" fill="#fff" stroke="#000" stroke-width="1.0"/>
<polygon points="478.44,79.9 479.97,83.4 483.77,83.77 480.92,86.3 481.73,90.03 478.44,88.1 475.15,90.03 475.97,86.3 473.12,83.77 476.91,83.4" fill="#fff" stroke="#000" stroke-width="1.0"/>
<polyline points="123.2,233.4 125.83,233.39 128.46,233.38 131.09,233.37 133.73,233.36 136.36,233.35 138.99,233.34 141.62,233.33 144.25,233.32 146.88,233.31 149.51,233.3 152.15,233.29 154.78,233.28 157.41,233.27 160.04,233.26 162.67,233.25 165.3,233.24 167.93,233.23 170.57,233.22 173.2,233.21 175.83,233.2 178.46,233.19 181.09,233.18 183.72,233.17 186.35,233.16 188.99,233.15 191.62,233.14 194.25,233.13 196.88,233.12 199.51,233.11 202.14,233.1 204.77,233.09 207.41,233.08 210.04,233.07 212.67,233.06 215.3,233.05 217.93,233.04 220.56,233.03 223.19,233.02 225.83,233.01 228.46,233 231.09,232.92 233.72,232.84 236.35,232.76 238.98,232.68 241.61,232.6 244.25,232.42 246.88,232.24 249.51,232.06 252.14,231.88 254.77,231.7 257.4,231.26 260.03,230.82 262.67,230.38 265.3,229.94 267.93,229.5 270.56,229.08 273.19,228.66 275.82,228.24 278.45,227.82 281.09,227.4 283.72,227.06 286.35,226.72 288.98,226.38 291.61,226.04 294.24,225.7 296.87,225.35 299.51,225.01 302.14,224.66 304.77,224.32 307.4,223.97 310.03,223.62 312.66,223.28 315.29,223.01 317.93,223.06 320.56,223.11 323.19,223.17 325.82,223.22 328.45,223.27 331.08,223.32 333.71,223.38 336.35,223.43 338.98,223.48 341.61,223.59 344.24,223.75 346.87,223.91 349.5,224.06 352.13,224.22 354.77,224.38 357.4,224.53 360.03,224.69 362.66,224.84 365.29,225 367.92,225.25 370.55,225.5 373.19,225.75 375.82,226 378.45,226.25 381.08,226.5 383.71,226.75 386.34,227 388.97,227.03 391.61,227.07 394.24,227.1 396.87,227.13 399.5,227.17 402.13,227.2 404.76,227.23 407.39,227.27 410.03,227.3 412.66,227.33 415.29,227.37 417.92,227.4 420.55,227.43 423.18,227.47 425.81,227.5 428.45,227.55 431.08,227.6 433.71,227.65 436.34,227.7 438.97,227.75 441.6,227.8 444.23,227.85 446.87,227.9 449.5,227.95 452.13,228 454.76,226.4 457.39,224.8 460.02,223.2 462.65,221.6 465.29,220 467.92,218.6 470.55,217.2 473.18,215.8 475.81,214.4 478.44,213 481.07,210.33 483.71,207.67 486.34,205" fill="none" stroke="#008000" stroke-width="1.0"/>
<rect x="119.3" y="229.5" width="7.8" height="7.8" fill="#fff" stroke="#008000" stroke-width="1.0"/>
<rect x="132.46" y="229.45" width="7.8" height="7.8" fill="#fff" stroke="#008000" stroke-width="1.0"/>
<rect x="145.61" y="229.4" width="7.8" height="7.8" fill="#fff" stroke="#008000" stroke-width="1.0"/>
<rect x="158.77" y="229.35" width="7.8" height="7.8" fill="#fff" stroke="#008000" stroke-width="1.0"/>
<rect x="171.93" y="229.3" width="7.8" height="7.8" fill="#fff" stroke="#008000" stroke-width="1.0"/>
<rect x="185.09" y="229.25" width="7.8" height="7.8" fill="#fff" stroke="#008000" stroke-width="1.0"/>
<rect x="198.24" y="229.2" width="7.8" height="7.8" fill="#fff" stroke="#008000" stroke-width="1.0"/>
<rect x="211.4" y="229.15" width="7.8" height="7.8" fill="#fff" stroke="#008000" stroke-width="1.0"/>
<rect x="224.56" y="229.1" width="7.8" height="7.8" fill="#fff" stroke="#008000" stroke-width="1.0"/>
<rect x="237.71" y="228.7" width="7.8" height="7.8" fill="#fff" stroke="#008000" stroke-width="1.0"/>
<rect x="250.87" y="227.8" width="7.8" height="7.8" fill="#fff" stroke="#008000" stroke-width="1.0"/>
<rect x="264.03" y="225.6" width="7.8" height="7.8" fill="#fff" stroke="#008000" stroke-width="1.0"/>
<rect x="277.19" y="223.5" width="7.8" height="7.8" fill="#fff" stroke="#008000" stroke-width="1.0"/>
<rect x="290.34" y="221.8" width="7.8" height="7.8" fill="#fff" stroke="#008000" stroke-width="1.0"/>
<rect x="303.5" y="220.07" width="7.8" height="7.8" fill="#fff" stroke="#008000" stroke-width="1.0"/>
<rect x="316.66" y="219.21" width="7.8" height="7.8" fill="#fff" stroke="#008000" stroke-width="1.0"/>
<rect x="329.81" y="219.47" width="7.8" height="7.8" fill="#fff" stroke="#008000" stroke-width="1.0"/>
<rect x="342.97" y="220.01" width="7.8" height="7.8" fill="#fff" stroke="#008000" stroke-width="1.0"/>
<rect x="356.13" y="220.79" width="7.8" height="7.8" fill="#fff" stroke="#008000" stroke-width="1.0"/>
<rect x="369.29" y="221.85" width="7.8" height="7.8" fill="#fff" stroke="#008000" stroke-width="1.0"/>
<rect x="382.44" y="223.1" width="7.8" height="7.8" fill="#fff" stroke="#008000" stroke-width="1.0"/>
<rect x="395.6" y="223.27" width="7.8" height="7.8" fill="#fff" stroke="#008000" stroke-width="1.0"/>
<rect x="408.76" y="223.43" width="7.8" height="7.8" fill="#fff" stroke="#008000" stroke-width="1.0"/>
<rect x="421.91" y="223.6" width="7.8" height="7.8" fill="#fff" stroke="#008000" stroke-width="1.0"/>
<rect x="435.07" y="223.85" width="7.8" height="7.8" fill="#fff" stroke="#008000" stroke-width="1.0"/>
<rect x="448.23" y="224.1" width="7.8" height="7.8" fill="#fff" stroke="#008000" stroke-width="1.0"/>
<rect x="461.39" y="216.1" width="7.8" height="7.8" fill="#fff" stroke="#008000" stroke-width="1.0"/>
<rect x="474.54" y="209.1" width="7.8" height="7.8" fill="#fff" stroke="#008000" stroke-width="1.0"/>
<polyline points="123.2,246 125.83,246.01 128.46,246.02 131.09,246.03 133.73,246.04 136.36,246.05 138.99,246.06 141.62,246.07 144.25,246.08 146.88,246.09 149.51,246.1 152.15,246.11 154.78,246.12 157.41,246.13 160.04,246.14 162.67,246.15 165.3,246.16 167.93,246.17 170.57,246.18 173.2,246.19 175.83,246.2 178.46,246.21 181.09,246.22 183.72,246.23 186.35,246.24 188.99,246.25 191.62,246.26 194.25,246.27 196.88,246.28 199.51,246.29 202.14,246.3 204.77,246.31 207.41,246.32 210.04,246.33 212.67,246.34 215.3,246.35 217.93,246.36 220.56,246.37 223.19,246.38 225.83,246.39 228.46,246.4 231.09,246.41 233.72,246.42 236.35,246.43 238.98,246.44 241.61,246.45 244.25,246.46 246.88,246.47 249.51,246.48 252.14,246.49 254.77,246.5 257.4,246.05 260.03,245.6 262.67,245.15 265.3,244.7 267.93,244.25 270.56,243.8 273.19,243.35 275.82,242.9 278.45,242.45 281.09,242 283.72,241.6 286.35,241.2 288.98,240.8 291.61,240.4 294.24,240 296.87,239.6 299.51,239.2 302.14,238.8 304.77,238.4 307.4,238 310.03,237.7 312.66,237.4 315.29,237.1 317.93,236.8 320.56,236.5 323.19,236.2 325.82,235.9 328.45,235.6 331.08,235.3 333.71,235 336.35,234.9 338.98,234.8 341.61,234.7 344.24,234.6 346.87,234.5 349.5,234.4 352.13,234.3 354.77,234.2 357.4,234.1 360.03,234 362.66,234.1 365.29,234.2 367.92,234.3 370.55,234.4 373.19,234.5 375.82,234.6 378.45,234.7 381.08,234.8 383.71,234.9 386.34,235 388.97,235.05 391.61,235.1 394.24,235.15 396.87,235.2 399.5,235.25 402.13,235.3 404.76,235.35 407.39,235.4 410.03,235.45 412.66,235.5 415.29,235.5 417.92,235.5 420.55,235.5 423.18,235.5 425.81,235.5 428.45,235.5 431.08,235.5 433.71,235.5 436.34,235.5 438.97,235.5 441.6,235.5 444.23,235.5 446.87,235.5 449.5,235.5 452.13,235.5 454.76,234.8 457.39,234.1 460.02,233.4 462.65,232.7 465.29,232 467.92,230.6 470.55,229.2 473.18,227.8 475.81,226.4 478.44,225 481.07,221.33 483.71,217.67 486.34,214" fill="none" stroke="#008000" stroke-width="1.0"/>
<circle cx="123.2" cy="246" r="4.5" fill="#fff" stroke="#008000" stroke-width="1.0"/>
<circle cx="136.36" cy="246.05" r="4.5" fill="#fff" stroke="#008000" stroke-width="1.0"/>
<circle cx="149.51" cy="246.1" r="4.5" fill="#fff" stroke="#008000" stroke-width="1.0"/>
<circle cx="162.67" cy="246.15" r="4.5" fill="#fff" stroke="#008000" stroke-width="1.0"/>
<circle cx="175.83" cy="246.2" r="4.5" fill="#fff" stroke="#008000" stroke-width="1.0"/>
<circle cx="188.99" cy="246.25" r="4.5" fill="#fff" stroke="#008000" stroke-width="1.0"/>
<circle cx="202.14" cy="246.3" r="4.5" fill="#fff" stroke="#008000" stroke-width="1.0"/>
<circle cx="215.3" cy="246.35" r="4.5" fill="#fff" stroke="#008000" stroke-width="1.0"/>
<circle cx="228.46" cy="246.4" r="4.5" fill="#fff" stroke="#008000" stroke-width="1.0"/>
<circle cx="241.61" cy="246.45" r="4.5" fill="#fff" stroke="#008000" stroke-width="1.0"/>
<circle cx="254.77" cy="246.5" r="4.5" fill="#fff" stroke="#008000" stroke-width="1.0"/>
<circle cx="267.93" cy="244.25" r="4.5" fill="#fff" stroke="#008000" stroke-width="1.0"/>
<circle cx="281.09" cy="242" r="4.5" fill="#fff" stroke="#008000" stroke-width="1.0"/>
<circle cx="294.24" cy="240" r="4.5" fill="#fff" stroke="#008000" stroke-width="1.0"/>
<circle cx="307.4" cy="238" r="4.5" fill="#fff" stroke="#008000" stroke-width="1.0"/>
<circle cx="320.56" cy="236.5" r="4.5" fill="#fff" stroke="#008000" stroke-width="1.0"/>
<circle cx="333.71" cy="235" r="4.5" fill="#fff" stroke="#008000" stroke-width="1.0"/>
<circle cx="346.87" cy="234.5" r="4.5" fill="#fff" stroke="#008000" stroke-width="1.0"/>
<circle cx="360.03" cy="234" r="4.5" fill="#fff" stroke="#008000" stroke-width="1.0"/>
<circle cx="373.19" cy="234.5" r="4.5" fill="#fff" stroke="#008000" stroke-width="1.0"/>
<circle cx="386.34" cy="235" r="4.5" fill="#fff" stroke="#008000" stroke-width="1.0"/>
<circle cx="399.5" cy="235.25" r="4.5" fill="#fff" stroke="#008000" stroke-width="1.0"/>
<circle cx="412.66" cy="235.5" r="4.5" fill="#fff" stroke="#008000" stroke-width="1.0"/>
<circle cx="425.81" cy="235.5" r="4.5" fill="#fff" stroke="#008000" stroke-width="1.0"/>
<circle cx="438.97" cy="235.5" r="4.5" fill="#fff" stroke="#008000" stroke-width="1.0"/>
<circle cx="452.13" cy="235.5" r="4.5" fill="#fff" stroke="#008000" stroke-width="1.0"/>
<circle cx="465.29" cy="232" r="4.5" fill="#fff" stroke="#008000" stroke-width="1.0"/>
<circle cx="478.44" cy="225" r="4.5" fill="#fff" stroke="#008000" stroke-width="1.0"/>
<polyline points="123.2,245 125.83,245 128.46,245 131.09,245 133.73,245 136.36,245 138.99,245 141.62,245 144.25,245 146.88,245 149.51,245 152.15,245 154.78,245 157.41,245 160.04,245 162.67,245 165.3,245 167.93,245 170.57,245 173.2,245 175.83,245 178.46,245 181.09,245 183.72,245 186.35,245 188.99,245 191.62,245 194.25,245 196.88,245 199.51,245 202.14,245 204.77,245 207.41,245 210.04,245 212.67,245 215.3,245 217.93,245 220.56,245 223.19,245 225.83,245 228.46,245 231.09,245 233.72,245 236.35,245 238.98,245 241.61,245 244.25,245 246.88,245 249.51,245 252.14,245 254.77,245 257.4,244.6 260.03,244.2 262.67,243.8 265.3,243.4 267.93,243 270.56,242.6 273.19,242.2 275.82,241.8 278.45,241.4 281.09,241 283.72,240.6 286.35,240.2 288.98,239.8 291.61,239.4 294.24,239 296.87,238.6 299.51,238.2 302.14,237.8 304.77,237.4 307.4,237 310.03,236.7 312.66,236.4 315.29,236.1 317.93,235.8 320.56,235.5 323.19,235.2 325.82,234.9 328.45,234.6 331.08,234.3 333.71,234 336.35,233.95 338.98,233.9 341.61,233.85 344.24,233.8 346.87,233.75 349.5,233.7 352.13,233.65 354.77,233.6 357.4,233.55 360.03,233.5 362.66,233.45 365.29,233.4 367.92,233.35 370.55,233.3 373.19,233.25 375.82,233.2 378.45,233.15 381.08,233.1 383.71,233.05 386.34,233 388.97,232.4 391.61,231.8 394.24,231.2 396.87,230.6 399.5,230 402.13,227.6 404.76,225.2 407.39,222.8 410.03,220.4 412.66,218 415.29,217.8 417.92,217.6 420.55,217.4 423.18,217.2 425.81,217 428.45,216.8 431.08,216.6 433.71,216.4 436.34,216.2 438.97,216 441.6,215.8 444.23,215.6 446.87,215.4 449.5,215.2 452.13,215 454.76,214.4 457.39,213.8 460.02,213.2 462.65,212.6 465.29,212 467.92,210.6 470.55,209.2 473.18,207.8 475.81,206.4 478.44,205 481.07,202.67 483.71,200.33 486.34,198" fill="none" stroke="#008000" stroke-width="1.0"/>
<polygon points="123.2,239.2 128.4,247.9 118,247.9" fill="#fff" stroke="#008000" stroke-width="1.0"/>
<polygon points="136.36,239.2 141.56,247.9 131.16,247.9" fill="#fff" stroke="#008000" stroke-width="1.0"/>
<polygon points="149.51,239.2 154.71,247.9 144.31,247.9" fill="#fff" stroke="#008000" stroke-width="1.0"/>
<polygon points="162.67,239.2 167.87,247.9 157.47,247.9" fill="#fff" stroke="#008000" stroke-width="1.0"/>
<polygon points="175.83,239.2 181.03,247.9 170.63,247.9" fill="#fff" stroke="#008000" stroke-width="1.0"/>
<polygon points="188.99,239.2 194.19,247.9 183.79,247.9" fill="#fff" stroke="#008000" stroke-width="1.0"/>
<polygon points="202.14,239.2 207.34,247.9 196.94,247.9" fill="#fff" stroke="#008000" stroke-width="1.0"/>
<polygon points="215.3,239.2 220.5,247.9 210.1,247.9" fill="#fff" stroke="#008000" stroke-width="1.0"/>
<polygon points="228.46,239.2 233.66,247.9 223.26,247.9" fill="#fff" stroke="#008000" stroke-width="1.0"/>
<polygon points="241.61,239.2 246.81,247.9 236.41,247.9" fill="#fff" stroke="#008000" stroke-width="1.0"/>
<polygon points="254.77,239.2 259.97,247.9 249.57,247.9" fill="#fff" stroke="#008000" stroke-width="1.0"/>
<polygon points="267.93,237.2 273.13,245.9 262.73,245.9" fill="#fff" stroke="#008000" stroke-width="1.0"/>
<polygon points="281.09,235.2 286.29,243.9 275.89,243.9" fill="#fff" stroke="#008000" stroke-width="1.0"/>
<polygon points="294.24,233.2 299.44,241.9 289.04,241.9" fill="#fff" stroke="#008000" stroke-width="1.0"/>
<polygon points="307.4,231.2 312.6,239.9 302.2,239.9" fill="#fff" stroke="#008000" stroke-width="1.0"/>
<polygon points="320.56,229.7 325.76,238.4 315.36,238.4" fill="#fff" stroke="#008000" stroke-width="1.0"/>
<polygon points="333.71,228.2 338.91,236.9 328.51,236.9" fill="#fff" stroke="#008000" stroke-width="1.0"/>
<polygon points="346.87,227.95 352.07,236.65 341.67,236.65" fill="#fff" stroke="#008000" stroke-width="1.0"/>
<polygon points="360.03,227.7 365.23,236.4 354.83,236.4" fill="#fff" stroke="#008000" stroke-width="1.0"/>
<polygon points="373.19,227.45 378.39,236.15 367.99,236.15" fill="#fff" stroke="#008000" stroke-width="1.0"/>
<polygon points="386.34,227.2 391.54,235.9 381.14,235.9" fill="#fff" stroke="#008000" stroke-width="1.0"/>
<polygon points="399.5,224.2 404.7,232.9 394.3,232.9" fill="#fff" stroke="#008000" stroke-width="1.0"/>
<polygon points="412.66,212.2 417.86,220.9 407.46,220.9" fill="#fff" stroke="#008000" stroke-width="1.0"/>
<polygon points="425.81,211.2 431.01,219.9 420.61,219.9" fill="#fff" stroke="#008000" stroke-width="1.0"/>
<polygon points="438.97,210.2 444.17,218.9 433.77,218.9" fill="#fff" stroke="#008000" stroke-width="1.0"/>
<polygon points="452.13,209.2 457.33,217.9 446.93,217.9" fill="#fff" stroke="#008000" stroke-width="1.0"/>
<polygon points="465.29,206.2 470.49,214.9 460.09,214.9" fill="#fff" stroke="#008000" stroke-width="1.0"/>
<polygon points="478.44,199.2 483.64,207.9 473.24,207.9" fill="#fff" stroke="#008000" stroke-width="1.0"/>
<polyline points="123.2,219 125.83,219.02 128.46,219.04 131.09,219.06 133.73,219.08 136.36,219.1 138.99,219.12 141.62,219.14 144.25,219.16 146.88,219.18 149.51,219.2 152.15,219.22 154.78,219.24 157.41,219.26 160.04,219.28 162.67,219.3 165.3,219.32 167.93,219.34 170.57,219.36 173.2,219.38 175.83,219.4 178.46,219.42 181.09,219.44 183.72,219.46 186.35,219.48 188.99,219.5 191.62,219.52 194.25,219.54 196.88,219.56 199.51,219.58 202.14,219.6 204.77,219.62 207.41,219.64 210.04,219.66 212.67,219.68 215.3,219.7 217.93,219.72 220.56,219.74 223.19,219.76 225.83,219.78 228.46,219.8 231.09,219.82 233.72,219.84 236.35,219.86 238.98,219.88 241.61,219.9 244.25,219.92 246.88,219.94 249.51,219.96 252.14,219.98 254.77,220 257.4,219.8 260.03,219.6 262.67,219.4 265.3,219.2 267.93,219 270.56,218.8 273.19,218.6 275.82,218.4 278.45,218.2 281.09,218 283.72,217.8 286.35,217.6 288.98,217.4 291.61,217.2 294.24,217 296.87,216.8 299.51,216.6 302.14,216.4 304.77,216.2 307.4,216 310.03,215.8 312.66,215.6 315.29,215.4 317.93,215.2 320.56,215 323.19,214.8 325.82,214.6 328.45,214.4 331.08,214.2 333.71,214 336.35,213.8 338.98,213.6 341.61,213.4 344.24,213.2 346.87,213 349.5,212.8 352.13,212.6 354.77,212.4 357.4,212.2 360.03,212 362.66,211.8 365.29,211.6 367.92,211.4 370.55,211.2 373.19,211 375.82,210.8 378.45,210.6 381.08,210.4 383.71,210.2 386.34,210 388.97,209.6 391.61,209.2 394.24,208.8 396.87,208.4 399.5,208 402.13,207.6 404.76,207.2 407.39,206.8 410.03,206.4 412.66,206 415.29,205.9 417.92,205.8 420.55,205.7 423.18,205.6 425.81,205.5 428.45,205.4 431.08,205.3 433.71,205.2 436.34,205.1 438.97,205 441.6,204.7 444.23,204.4 446.87,204.1 449.5,203.8 452.13,203.5 454.76,202.2 457.39,200.9 460.02,199.6 462.65,198.3 465.29,197 467.92,195.26 470.55,193.52 473.18,191.78 475.81,190.04 478.44,188.3 481.07,186.87 483.71,185.43 486.34,184" fill="none" stroke="#008000" stroke-width="1.0"/>
<polygon points="129.78,224.85 134.98,216.15 124.58,216.15" fill="#fff" stroke="#008000" stroke-width="1.0"/>
<polygon points="142.69,224.95 147.89,216.25 137.49,216.25" fill="#fff" stroke="#008000" stroke-width="1.0"/>
<polygon points="155.61,225.05 160.81,216.35 150.41,216.35" fill="#fff" stroke="#008000" stroke-width="1.0"/>
<polygon points="168.52,225.14 173.72,216.44 163.32,216.44" fill="#fff" stroke="#008000" stroke-width="1.0"/>
<polygon points="181.44,225.24 186.64,216.54 176.24,216.54" fill="#fff" stroke="#008000" stroke-width="1.0"/>
<polygon points="194.35,225.34 199.55,216.64 189.15,216.64" fill="#fff" stroke="#008000" stroke-width="1.0"/>
<polygon points="207.27,225.44 212.47,216.74 202.07,216.74" fill="#fff" stroke="#008000" stroke-width="1.0"/>
<polygon points="220.18,225.54 225.38,216.84 214.98,216.84" fill="#fff" stroke="#008000" stroke-width="1.0"/>
<polygon points="233.1,225.64 238.3,216.94 227.9,216.94" fill="#fff" stroke="#008000" stroke-width="1.0"/>
<polygon points="246.01,225.73 251.21,217.03 240.81,217.03" fill="#fff" stroke="#008000" stroke-width="1.0"/>
<polygon points="258.93,225.48 264.13,216.78 253.73,216.78" fill="#fff" stroke="#008000" stroke-width="1.0"/>
<polygon points="271.84,224.5 277.04,215.8 266.64,215.8" fill="#fff" stroke="#008000" stroke-width="1.0"/>
<polygon points="284.76,223.52 289.96,214.82 279.56,214.82" fill="#fff" stroke="#008000" stroke-width="1.0"/>
<polygon points="297.67,222.54 302.87,213.84 292.47,213.84" fill="#fff" stroke="#008000" stroke-width="1.0"/>
<polygon points="310.59,221.56 315.79,212.86 305.39,212.86" fill="#fff" stroke="#008000" stroke-width="1.0"/>
<polygon points="323.5,220.58 328.7,211.88 318.3,211.88" fill="#fff" stroke="#008000" stroke-width="1.0"/>
<polygon points="336.42,219.59 341.62,210.89 331.22,210.89" fill="#fff" stroke="#008000" stroke-width="1.0"/>
<polygon points="349.33,218.61 354.53,209.91 344.13,209.91" fill="#fff" stroke="#008000" stroke-width="1.0"/>
<polygon points="362.25,217.63 367.45,208.93 357.05,208.93" fill="#fff" stroke="#008000" stroke-width="1.0"/>
<polygon points="375.16,216.65 380.36,207.95 369.96,207.95" fill="#fff" stroke="#008000" stroke-width="1.0"/>
<polygon points="388.08,215.54 393.28,206.84 382.88,206.84" fill="#fff" stroke="#008000" stroke-width="1.0"/>
<polygon points="400.99,213.57 406.19,204.87 395.79,204.87" fill="#fff" stroke="#008000" stroke-width="1.0"/>
<polygon points="413.91,211.75 419.11,203.05 408.71,203.05" fill="#fff" stroke="#008000" stroke-width="1.0"/>
<polygon points="426.82,211.26 432.02,202.56 421.62,202.56" fill="#fff" stroke="#008000" stroke-width="1.0"/>
<polygon points="439.74,210.71 444.94,202.01 434.54,202.01" fill="#fff" stroke="#008000" stroke-width="1.0"/>
<polygon points="452.65,209.04 457.85,200.34 447.45,200.34" fill="#fff" stroke="#008000" stroke-width="1.0"/>
<polygon points="465.57,202.61 470.77,193.91 460.37,193.91" fill="#fff" stroke="#008000" stroke-width="1.0"/>
<polygon points="478.48,194.08 483.68,185.38 473.28,185.38" fill="#fff" stroke="#008000" stroke-width="1.0"/>
<polyline points="123.2,245.5 125.83,245.52 128.46,245.54 131.09,245.57 133.73,245.59 136.36,245.61 138.99,245.63 141.62,245.65 144.25,245.68 146.88,245.7 149.51,245.72 152.15,245.74 154.78,245.76 157.41,245.79 160.04,245.81 162.67,245.83 165.3,245.85 167.93,245.87 170.57,245.89 173.2,245.92 175.83,245.94 178.46,245.96 181.09,245.98 183.72,246 186.35,246.03 188.99,246.05 191.62,246.07 194.25,246.09 196.88,246.11 199.51,246.14 202.14,246.16 204.77,246.18 207.41,246.2 210.04,246.22 212.67,246.25 215.3,246.27 217.93,246.29 220.56,246.31 223.19,246.33 225.83,246.36 228.46,246.38 231.09,246.4 233.72,246.42 236.35,246.44 238.98,246.46 241.61,246.49 244.25,246.28 246.88,245.73 249.51,245.19 252.14,244.64 254.77,244.09 257.4,243.55 260.03,243 262.67,242.56 265.3,242.12 267.93,241.69 270.56,241.25 273.19,240.81 275.82,240.38 278.45,239.94 281.09,239.5 283.72,239.08 286.35,238.67 288.98,238.25 291.61,237.83 294.24,237.42 296.87,237 299.51,236.58 302.14,236.25 304.77,235.94 307.4,235.62 310.03,235.31 312.66,235 315.29,234.69 317.93,234.38 320.56,234.06 323.19,233.75 325.82,233.49 328.45,233.45 331.08,233.4 333.71,233.36 336.35,233.31 338.98,233.27 341.61,233.22 344.24,233.18 346.87,233.13 349.5,233.09 352.13,233.04 354.77,233 357.4,233.08 360.03,233.17 362.66,233.25 365.29,233.33 367.92,233.42 370.55,233.5 373.19,233.58 375.82,233.67 378.45,233.75 381.08,233.83 383.71,233.92 386.34,234 388.97,233.8 391.61,233.6 394.24,233.4 396.87,233.2 399.5,233 402.13,230.8 404.76,228.6 407.39,226.4 410.03,224.2 412.66,222 415.29,220.8 417.92,219.6 420.55,218.4 423.18,217.2 425.81,216 428.45,216 431.08,216 433.71,216 436.34,216 438.97,216 441.6,215.8 444.23,215.6 446.87,215.4 449.5,215.2 452.13,215 454.76,214.4 457.39,213.8 460.02,213.2 462.65,212.6 465.29,212 467.92,210.6 470.55,209.2 473.18,207.8 475.81,206.4 478.44,205 481.07,202.67 483.71,200.33 486.34,198" fill="none" stroke="#008000" stroke-width="1.0"/>
<polygon points="117.4,245.5 126.1,240.3 126.1,250.7" fill="#fff" stroke="#008000" stroke-width="1.0"/>
<polygon points="130.56,245.61 139.26,240.41 139.26,250.81" fill="#fff" stroke="#008000" stroke-width="1.0"/>
<polygon points="143.71,245.72 152.41,240.52 152.41,250.92" fill="#fff" stroke="#008000" stroke-width="1.0"/>
<polygon points="156.87,245.83 165.57,240.63 165.57,251.03" fill="#fff" stroke="#008000" stroke-width="1.0"/>
<polygon points="170.03,245.94 178.73,240.74 178.73,251.14" fill="#fff" stroke="#008000" stroke-width="1.0"/>
<polygon points="183.19,246.05 191.89,240.85 191.89,251.25" fill="#fff" stroke="#008000" stroke-width="1.0"/>
<polygon points="196.34,246.16 205.04,240.96 205.04,251.36" fill="#fff" stroke="#008000" stroke-width="1.0"/>
<polygon points="209.5,246.27 218.2,241.07 218.2,251.47" fill="#fff" stroke="#008000" stroke-width="1.0"/>
<polygon points="222.66,246.38 231.36,241.18 231.36,251.58" fill="#fff" stroke="#008000" stroke-width="1.0"/>
<polygon points="235.81,246.49 244.51,241.29 244.51,251.69" fill="#fff" stroke="#008000" stroke-width="1.0"/>
<polygon points="248.97,244.09 257.67,238.89 257.67,249.29" fill="#fff" stroke="#008000" stroke-width="1.0"/>
<polygon points="262.13,241.69 270.83,236.49 270.83,246.89" fill="#fff" stroke="#008000" stroke-width="1.0"/>
<polygon points="275.29,239.5 283.99,234.3 283.99,244.7" fill="#fff" stroke="#008000" stroke-width="1.0"/>
<polygon points="288.44,237.42 297.14,232.22 297.14,242.62" fill="#fff" stroke="#008000" stroke-width="1.0"/>
<polygon points="301.6,235.62 310.3,230.43 310.3,240.82" fill="#fff" stroke="#008000" stroke-width="1.0"/>
<polygon points="314.76,234.06 323.46,228.86 323.46,239.26" fill="#fff" stroke="#008000" stroke-width="1.0"/>
<polygon points="327.91,233.36 336.61,228.16 336.61,238.56" fill="#fff" stroke="#008000" stroke-width="1.0"/>
<polygon points="341.07,233.13 349.77,227.93 349.77,238.33" fill="#fff" stroke="#008000" stroke-width="1.0"/>
<polygon points="354.23,233.17 362.93,227.97 362.93,238.37" fill="#fff" stroke="#008000" stroke-width="1.0"/>
<polygon points="367.39,233.58 376.09,228.38 376.09,238.78" fill="#fff" stroke="#008000" stroke-width="1.0"/>
<polygon points="380.54,234 389.24,228.8 389.24,239.2" fill="#fff" stroke="#008000" stroke-width="1.0"/>
<polygon points="393.7,233 402.4,227.8 402.4,238.2" fill="#fff" stroke="#008000" stroke-width="1.0"/>
<polygon points="406.86,222 415.56,216.8 415.56,227.2" fill="#fff" stroke="#008000" stroke-width="1.0"/>
<polygon points="420.01,216 428.71,210.8 428.71,221.2" fill="#fff" stroke="#008000" stroke-width="1.0"/>
<polygon points="433.17,216 441.87,210.8 441.87,221.2" fill="#fff" stroke="#008000" stroke-width="1.0"/>
<polygon points="446.33,215 455.03,209.8 455.03,220.2" fill="#fff" stroke="#008000" stroke-width="1.0"/>
<polygon points="459.49,212 468.19,206.8 468.19,217.2" fill="#fff" stroke="#008000" stroke-width="1.0"/>
<polygon points="472.64,205 481.34,199.8 481.34,210.2" fill="#fff" stroke="#008000" stroke-width="1.0"/>
<polyline points="123.2,224.4 125.83,224.39 128.46,224.39 131.09,224.38 133.73,224.37 136.36,224.37 138.99,224.36 141.62,224.35 144.25,224.35 146.88,224.34 149.51,224.33 152.15,224.33 154.78,224.32 157.41,224.31 160.04,224.31 162.67,224.3 165.3,224.29 167.93,224.29 170.57,224.28 173.2,224.27 175.83,224.27 178.46,224.26 181.09,224.25 183.72,224.25 186.35,224.24 188.99,224.23 191.62,224.23 194.25,224.22 196.88,224.21 199.51,224.21 202.14,224.2 204.77,224.19 207.41,224.19 210.04,224.18 212.67,224.17 215.3,224.17 217.93,224.16 220.56,224.15 223.19,224.15 225.83,224.14 228.46,224.13 231.09,224.13 233.72,224.12 236.35,224.11 238.98,224.11 241.61,224.1 244.25,224.09 246.88,224.09 249.51,224.08 252.14,224.07 254.77,224.07 257.4,224.06 260.03,224.05 262.67,224.05 265.3,224.04 267.93,224.03 270.56,224.03 273.19,224.02 275.82,224.01 278.45,224.01 281.09,224 283.72,223.4 286.35,222.8 288.98,222.2 291.61,221.6 294.24,221 296.87,220.4 299.51,219.8 302.14,219.2 304.77,218.6 307.4,218 310.03,217.6 312.66,217.2 315.29,216.8 317.93,216.4 320.56,216 323.19,215.6 325.82,215.2 328.45,214.8 331.08,214.4 333.71,214 336.35,213.8 338.98,213.6 341.61,213.4 344.24,213.2 346.87,213 349.5,212.8 352.13,212.6 354.77,212.4 357.4,212.2 360.03,212 362.66,212.1 365.29,212.2 367.92,212.3 370.55,212.4 373.19,212.5 375.82,212.6 378.45,212.7 381.08,212.8 383.71,212.9 386.34,213 388.97,213.2 391.61,213.4 394.24,213.6 396.87,213.8 399.5,214 402.13,214.2 404.76,214.4 407.39,214.6 410.03,214.8 412.66,215 415.29,215 417.92,215 420.55,215 423.18,215 425.81,215 428.45,215 431.08,215 433.71,215 436.34,215 438.97,215 441.6,215 444.23,215 446.87,215 449.5,215 452.13,215 454.76,214.4 457.39,213.8 460.02,213.2 462.65,212.6 465.29,212 467.92,210.6 470.55,209.2 473.18,207.8 475.81,206.4 478.44,205 481.07,202.67 483.71,200.33 486.34,198" fill="none" stroke="#008000" stroke-width="1.0"/>
<polygon points="129,224.4 120.3,219.2 120.3,229.6" fill="#fff" stroke="#008000" stroke-width="1.0"/>
<polygon points="142.16,224.37 133.46,219.17 133.46,229.57" fill="#fff" stroke="#008000" stroke-width="1.0"/>
<polygon points="155.31,224.33 146.61,219.13 146.61,229.53" fill="#fff" stroke="#008000" stroke-width="1.0"/>
<polygon points="168.47,224.3 159.77,219.1 159.77,229.5" fill="#fff" stroke="#008000" stroke-width="1.0"/>
<polygon points="181.63,224.27 172.93,219.07 172.93,229.47" fill="#fff" stroke="#008000" stroke-width="1.0"/>
<polygon points="194.79,224.23 186.09,219.03 186.09,229.43" fill="#fff" stroke="#008000" stroke-width="1.0"/>
<polygon points="207.94,224.2 199.24,219 199.24,229.4" fill="#fff" stroke="#008000" stroke-width="1.0"/>
<polygon points="221.1,224.17 212.4,218.97 212.4,229.37" fill="#fff" stroke="#008000" stroke-width="1.0"/>
<polygon points="234.26,224.13 225.56,218.93 225.56,229.33" fill="#fff" stroke="#008000" stroke-width="1.0"/>
<polygon points="247.41,224.1 238.71,218.9 238.71,229.3" fill="#fff" stroke="#008000" stroke-width="1.0"/>
<polygon points="260.57,224.07 251.87,218.87 251.87,229.27" fill="#fff" stroke="#008000" stroke-width="1.0"/>
<polygon points="273.73,224.03 265.03,218.83 265.03,229.23" fill="#fff" stroke="#008000" stroke-width="1.0"/>
<polygon points="286.89,224 278.19,218.8 278.19,229.2" fill="#fff" stroke="#008000" stroke-width="1.0"/>
<polygon points="300.04,221 291.34,215.8 291.34,226.2" fill="#fff" stroke="#008000" stroke-width="1.0"/>
<polygon points="313.2,218 304.5,212.8 304.5,223.2" fill="#fff" stroke="#008000" stroke-width="1.0"/>
<polygon points="326.36,216 317.66,210.8 317.66,221.2" fill="#fff" stroke="#008000" stroke-width="1.0"/>
<polygon points="339.51,214 330.81,208.8 330.81,219.2" fill="#fff" stroke="#008000" stroke-width="1.0"/>
<polygon points="352.67,213 343.97,207.8 343.97,218.2" fill="#fff" stroke="#008000" stroke-width="1.0"/>
<polygon points="365.83,212 357.13,206.8 357.13,217.2" fill="#fff" stroke="#008000" stroke-width="1.0"/>
<polygon points="378.99,212.5 370.29,207.3 370.29,217.7" fill="#fff" stroke="#008000" stroke-width="1.0"/>
<polygon points="392.14,213 383.44,207.8 383.44,218.2" fill="#fff" stroke="#008000" stroke-width="1.0"/>
<polygon points="405.3,214 396.6,208.8 396.6,219.2" fill="#fff" stroke="#008000" stroke-width="1.0"/>
<polygon points="418.46,215 409.76,209.8 409.76,220.2" fill="#fff" stroke="#008000" stroke-width="1.0"/>
<polygon points="431.61,215 422.91,209.8 422.91,220.2" fill="#fff" stroke="#008000" stroke-width="1.0"/>
<polygon points="444.77,215 436.07,209.8 436.07,220.2" fill="#fff" stroke="#008000" stroke-width="1.0"/>
<polygon points="457.93,215 449.23,209.8 449.23,220.2" fill="#fff" stroke="#008000" stroke-width="1.0"/>
<polygon points="471.09,212 462.39,206.8 462.39,217.2" fill="#fff" stroke="#008000" stroke-width="1.0"/>
<polygon points="484.24,205 475.54,199.8 475.54,210.2" fill="#fff" stroke="#008000" stroke-width="1.0"/>
<polyline points="123.2,205.5 125.83,205.57 128.46,205.65 131.09,205.72 133.73,205.8 136.36,205.88 138.99,205.95 141.62,206.03 144.25,206.1 146.88,206.18 149.51,206.25 152.15,206.32 154.78,206.4 157.41,206.47 160.04,206.55 162.67,206.62 165.3,206.7 167.93,206.78 170.57,206.85 173.2,206.93 175.83,207 178.46,207.13 181.09,207.27 183.72,207.4 186.35,207.53 188.99,207.67 191.62,207.8 194.25,207.93 196.88,208.07 199.51,208.2 202.14,208.33 204.77,208.47 207.41,208.6 210.04,208.73 212.67,208.87 215.3,209 217.93,209.13 220.56,209.27 223.19,209.4 225.83,209.53 228.46,209.67 231.09,209.8 233.72,209.93 236.35,210.07 238.98,210.2 241.61,210.33 244.25,210.47 246.88,210.6 249.51,210.73 252.14,210.87 254.77,211 257.4,211 260.03,211 262.67,211 265.3,211 267.93,211 270.56,211 273.19,211 275.82,211 278.45,211 281.09,211 283.72,210.7 286.35,210.4 288.98,210.1 291.61,209.8 294.24,209.5 296.87,209.2 299.51,208.9 302.14,208.6 304.77,208.3 307.4,208 310.03,207.94 312.66,207.88 315.29,207.82 317.93,207.76 320.56,207.7 323.19,207.63 325.82,207.57 328.45,207.51 331.08,207.45 333.71,207.39 336.35,207.33 338.98,207.27 341.61,207.21 344.24,207.15 346.87,207.09 349.5,207.02 352.13,207.13 354.77,207.35 357.4,207.57 360.03,207.79 362.66,208.01 365.29,208.24 367.92,208.46 370.55,208.68 373.19,208.9 375.82,209.12 378.45,209.34 381.08,209.56 383.71,209.78 386.34,210 388.97,210.4 391.61,210.8 394.24,211.2 396.87,211.6 399.5,212 402.13,212.4 404.76,212.8 407.39,213.2 410.03,213.6 412.66,214 415.29,214.2 417.92,214.4 420.55,214.6 423.18,214.8 425.81,215 428.45,215.2 431.08,215.4 433.71,215.6 436.34,215.8 438.97,216 441.6,215.8 444.23,215.6 446.87,215.4 449.5,215.2 452.13,215 454.76,214.4 457.39,213.8 460.02,213.2 462.65,212.6 465.29,212 467.92,210.6 470.55,209.2 473.18,207.8 475.81,206.4 478.44,205 481.07,202.67 483.71,200.33 486.34,198" fill="none" stroke="#008000" stroke-width="1.0"/>
<polygon points="123.2,200.1 128.6,205.5 123.2,210.9 117.8,205.5" fill="#fff" stroke="#008000" stroke-width="1.0"/>
<polygon points="136.36,200.47 141.76,205.88 136.36,211.28 130.96,205.88" fill="#fff" stroke="#008000" stroke-width="1.0"/>
<polygon points="149.51,200.85 154.91,206.25 149.51,211.65 144.11,206.25" fill="#fff" stroke="#008000" stroke-width="1.0"/>
<polygon points="162.67,201.22 168.07,206.62 162.67,212.03 157.27,206.62" fill="#fff" stroke="#008000" stroke-width="1.0"/>
<polygon points="175.83,201.6 181.23,207 175.83,212.4 170.43,207" fill="#fff" stroke="#008000" stroke-width="1.0"/>
<polygon points="188.99,202.27 194.39,207.67 188.99,213.07 183.59,207.67" fill="#fff" stroke="#008000" stroke-width="1.0"/>
<polygon points="202.14,202.93 207.54,208.33 202.14,213.73 196.74,208.33" fill="#fff" stroke="#008000" stroke-width="1.0"/>
<polygon points="215.3,203.6 220.7,209 215.3,214.4 209.9,209" fill="#fff" stroke="#008000" stroke-width="1.0"/>
<polygon points="228.46,204.27 233.86,209.67 228.46,215.07 223.06,209.67" fill="#fff" stroke="#008000" stroke-width="1.0"/>
<polygon points="241.61,204.93 247.01,210.33 241.61,215.73 236.21,210.33" fill="#fff" stroke="#008000" stroke-width="1.0"/>
<polygon points="254.77,205.6 260.17,211 254.77,216.4 249.37,211" fill="#fff" stroke="#008000" stroke-width="1.0"/>
<polygon points="267.93,205.6 273.33,211 267.93,216.4 262.53,211" fill="#fff" stroke="#008000" stroke-width="1.0"/>
<polygon points="281.09,205.6 286.49,211 281.09,216.4 275.69,211" fill="#fff" stroke="#008000" stroke-width="1.0"/>
<polygon points="294.24,204.1 299.64,209.5 294.24,214.9 288.84,209.5" fill="#fff" stroke="#008000" stroke-width="1.0"/>
<polygon points="307.4,202.6 312.8,208 307.4,213.4 302,208" fill="#fff" stroke="#008000" stroke-width="1.0"/>
<polygon points="320.56,202.3 325.96,207.7 320.56,213.1 315.16,207.7" fill="#fff" stroke="#008000" stroke-width="1.0"/>
<polygon points="333.71,201.99 339.11,207.39 333.71,212.79 328.31,207.39" fill="#fff" stroke="#008000" stroke-width="1.0"/>
<polygon points="346.87,201.69 352.27,207.09 346.87,212.49 341.47,207.09" fill="#fff" stroke="#008000" stroke-width="1.0"/>
<polygon points="360.03,202.39 365.43,207.79 360.03,213.19 354.63,207.79" fill="#fff" stroke="#008000" stroke-width="1.0"/>
<polygon points="373.19,203.5 378.59,208.9 373.19,214.3 367.79,208.9" fill="#fff" stroke="#008000" stroke-width="1.0"/>
<polygon points="386.34,204.6 391.74,210 386.34,215.4 380.94,210" fill="#fff" stroke="#008000" stroke-width="1.0"/>
<polygon points="399.5,206.6 404.9,212 399.5,217.4 394.1,212" fill="#fff" stroke="#008000" stroke-width="1.0"/>
<polygon points="412.66,208.6 418.06,214 412.66,219.4 407.26,214" fill="#fff" stroke="#008000" stroke-width="1.0"/>
<polygon points="425.81,209.6 431.21,215 425.81,220.4 420.41,215" fill="#fff" stroke="#008000" stroke-width="1.0"/>
<polygon points="438.97,210.6 444.37,216 438.97,221.4 433.57,216" fill="#fff" stroke="#008000" stroke-width="1.0"/>
<polygon points="452.13,209.6 457.53,215 452.13,220.4 446.73,215" fill="#fff" stroke="#008000" stroke-width="1.0"/>
<polygon points="465.29,206.6 470.69,212 465.29,217.4 459.89,212" fill="#fff" stroke="#008000" stroke-width="1.0"/>
<polygon points="478.44,199.6 483.84,205 478.44,210.4 473.04,205" fill="#fff" stroke="#008000" stroke-width="1.0"/>
<polyline points="123.2,214.5 125.83,214.52 128.46,214.54 131.09,214.57 133.73,214.59 136.36,214.61 138.99,214.63 141.62,214.66 144.25,214.68 146.88,214.7 149.51,214.72 152.15,214.75 154.78,214.77 157.41,214.79 160.04,214.81 162.67,214.83 165.3,214.86 167.93,214.88 170.57,214.9 173.2,214.92 175.83,214.95 178.46,214.97 181.09,214.99 183.72,215.01 186.35,215.04 188.99,215.06 191.62,215.08 194.25,215.1 196.88,215.12 199.51,215.15 202.14,215.17 204.77,215.19 207.41,215.21 210.04,215.24 212.67,215.26 215.3,215.28 217.93,215.3 220.56,215.33 223.19,215.35 225.83,215.37 228.46,215.39 231.09,215.42 233.72,215.44 236.35,215.46 238.98,215.48 241.61,215.44 244.25,215.12 246.88,214.81 249.51,214.5 252.14,214.19 254.77,213.88 257.4,213.56 260.03,213.25 262.67,212.94 265.3,212.62 267.93,212.31 270.56,212 273.19,211.73 275.82,211.46 278.45,211.2 281.09,210.93 283.72,210.66 286.35,210.39 288.98,210.12 291.61,209.86 294.24,209.59 296.87,209.32 299.51,209.05 302.14,209 304.77,209 307.4,209 310.03,209 312.66,209 315.29,209 317.93,209 320.56,209 323.19,209 325.82,209 328.45,209 331.08,209 333.71,209 336.35,209 338.98,209 341.61,209 344.24,209 346.87,209 349.5,209 352.13,209.12 354.77,209.33 357.4,209.54 360.03,209.75 362.66,209.96 365.29,210.17 367.92,210.38 370.55,210.58 373.19,210.79 375.82,211 378.45,211.16 381.08,211.33 383.71,211.49 386.34,211.65 388.97,211.82 391.61,211.98 394.24,212.14 396.87,212.3 399.5,212.47 402.13,212.62 404.76,212.78 407.39,212.93 410.03,213.08 412.66,213.23 415.29,213.39 417.92,213.54 420.55,213.69 423.18,213.85 425.81,214 428.45,214.2 431.08,214.4 433.71,214.6 436.34,214.8 438.97,215 441.6,214.9 444.23,214.8 446.87,214.7 449.5,214.6 452.13,214.5 454.76,214 457.39,213.5 460.02,213 462.65,212.5 465.29,212 467.92,210.6 470.55,209.2 473.18,207.8 475.81,206.4 478.44,205 481.07,202.67 483.71,200.33 486.34,198" fill="none" stroke="#008000" stroke-width="1.0"/>
<polygon points="123.2,208.9 124.73,212.4 128.53,212.77 125.67,215.3 126.49,219.03 123.2,217.1 119.91,219.03 120.73,215.3 117.87,212.77 121.67,212.4" fill="#fff" stroke="#008000" stroke-width="1.0"/>
<polygon points="136.36,209.01 137.89,212.51 141.68,212.88 138.83,215.42 139.65,219.14 136.36,217.21 133.07,219.14 133.88,215.42 131.03,212.88 134.83,212.51" fill="#fff" stroke="#008000" stroke-width="1.0"/>
<polygon points="149.51,209.12 151.04,212.62 154.84,212.99 151.99,215.53 152.81,219.25 149.51,217.32 146.22,219.25 147.04,215.53 144.19,212.99 147.99,212.62" fill="#fff" stroke="#008000" stroke-width="1.0"/>
<polygon points="162.67,209.23 164.2,212.73 168,213.1 165.14,215.64 165.96,219.37 162.67,217.43 159.38,219.37 160.2,215.64 157.35,213.1 161.14,212.73" fill="#fff" stroke="#008000" stroke-width="1.0"/>
<polygon points="175.83,209.35 177.36,212.84 181.15,213.22 178.3,215.75 179.12,219.48 175.83,217.55 172.54,219.48 173.36,215.75 170.5,213.22 174.3,212.84" fill="#fff" stroke="#008000" stroke-width="1.0"/>
<polygon points="188.99,209.46 190.51,212.95 194.31,213.33 191.46,215.86 192.28,219.59 188.99,217.66 185.69,219.59 186.51,215.86 183.66,213.33 187.46,212.95" fill="#fff" stroke="#008000" stroke-width="1.0"/>
<polygon points="202.14,209.57 203.67,213.07 207.47,213.44 204.62,215.97 205.43,219.7 202.14,217.77 198.85,219.7 199.67,215.97 196.82,213.44 200.61,213.07" fill="#fff" stroke="#008000" stroke-width="1.0"/>
<polygon points="215.3,209.68 216.83,213.18 220.63,213.55 217.77,216.08 218.59,219.81 215.3,217.88 212.01,219.81 212.83,216.08 209.97,213.55 213.77,213.18" fill="#fff" stroke="#008000" stroke-width="1.0"/>
<polygon points="228.46,209.79 229.99,213.29 233.78,213.66 230.93,216.2 231.75,219.92 228.46,217.99 225.17,219.92 225.98,216.2 223.13,213.66 226.93,213.29" fill="#fff" stroke="#008000" stroke-width="1.0"/>
<polygon points="241.61,209.84 243.14,213.33 246.94,213.71 244.09,216.24 244.91,219.97 241.61,218.04 238.32,219.97 239.14,216.24 236.29,213.71 240.09,213.33" fill="#fff" stroke="#008000" stroke-width="1.0"/>
<polygon points="254.77,208.28 256.3,211.77 260.1,212.14 257.24,214.68 258.06,218.41 254.77,216.47 251.48,218.41 252.3,214.68 249.45,212.14 253.24,211.77" fill="#fff" stroke="#008000" stroke-width="1.0"/>
<polygon points="267.93,206.71 269.46,210.21 273.25,210.58 270.4,213.12 271.22,216.84 267.93,214.91 264.64,216.84 265.46,213.12 262.6,210.58 266.4,210.21" fill="#fff" stroke="#008000" stroke-width="1.0"/>
<polygon points="281.09,205.33 282.61,208.83 286.41,209.2 283.56,211.73 284.38,215.46 281.09,213.53 277.79,215.46 278.61,211.73 275.76,209.2 279.56,208.83" fill="#fff" stroke="#008000" stroke-width="1.0"/>
<polygon points="294.24,203.99 295.77,207.49 299.57,207.86 296.72,210.39 297.53,214.12 294.24,212.19 290.95,214.12 291.77,210.39 288.92,207.86 292.71,207.49" fill="#fff" stroke="#008000" stroke-width="1.0"/>
<polygon points="307.4,203.4 308.93,206.9 312.73,207.27 309.87,209.8 310.69,213.53 307.4,211.6 304.11,213.53 304.93,209.8 302.07,207.27 305.87,206.9" fill="#fff" stroke="#008000" stroke-width="1.0"/>
<polygon points="320.56,203.4 322.09,206.9 325.88,207.27 323.03,209.8 323.85,213.53 320.56,211.6 317.27,213.53 318.08,209.8 315.23,207.27 319.03,206.9" fill="#fff" stroke="#008000" stroke-width="1.0"/>
<polygon points="333.71,203.4 335.24,206.9 339.04,207.27 336.19,209.8 337.01,213.53 333.71,211.6 330.42,213.53 331.24,209.8 328.39,207.27 332.19,206.9" fill="#fff" stroke="#008000" stroke-width="1.0"/>
<polygon points="346.87,203.4 348.4,206.9 352.2,207.27 349.34,209.8 350.16,213.53 346.87,211.6 343.58,213.53 344.4,209.8 341.55,207.27 345.34,206.9" fill="#fff" stroke="#008000" stroke-width="1.0"/>
<polygon points="360.03,204.15 361.56,207.65 365.35,208.02 362.5,210.55 363.32,214.28 360.03,212.35 356.74,214.28 357.56,210.55 354.7,208.02 358.5,207.65" fill="#fff" stroke="#008000" stroke-width="1.0"/>
<polygon points="373.19,205.19 374.71,208.69 378.51,209.06 375.66,211.6 376.48,215.32 373.19,213.39 369.89,215.32 370.71,211.6 367.86,209.06 371.66,208.69" fill="#fff" stroke="#008000" stroke-width="1.0"/>
<polygon points="386.34,206.05 387.87,209.55 391.67,209.92 388.82,212.46 389.63,216.18 386.34,214.25 383.05,216.18 383.87,212.46 381.02,209.92 384.81,209.55" fill="#fff" stroke="#008000" stroke-width="1.0"/>
<polygon points="399.5,206.87 401.03,210.36 404.83,210.74 401.97,213.27 402.79,217 399.5,215.07 396.21,217 397.03,213.27 394.17,210.74 397.97,210.36" fill="#fff" stroke="#008000" stroke-width="1.0"/>
<polygon points="412.66,207.63 414.19,211.13 417.98,211.5 415.13,214.04 415.95,217.77 412.66,215.83 409.37,217.77 410.18,214.04 407.33,211.5 411.13,211.13" fill="#fff" stroke="#008000" stroke-width="1.0"/>
<polygon points="425.81,208.4 427.34,211.9 431.14,212.27 428.29,214.8 429.11,218.53 425.81,216.6 422.52,218.53 423.34,214.8 420.49,212.27 424.29,211.9" fill="#fff" stroke="#008000" stroke-width="1.0"/>
<polygon points="438.97,209.4 440.5,212.9 444.3,213.27 441.44,215.8 442.26,219.53 438.97,217.6 435.68,219.53 436.5,215.8 433.65,213.27 437.44,212.9" fill="#fff" stroke="#008000" stroke-width="1.0"/>
<polygon points="452.13,208.9 453.66,212.4 457.45,212.77 454.6,215.3 455.42,219.03 452.13,217.1 448.84,219.03 449.66,215.3 446.8,212.77 450.6,212.4" fill="#fff" stroke="#008000" stroke-width="1.0"/>
<polygon points="465.29,206.4 466.81,209.9 470.61,210.27 467.76,212.8 468.58,216.53 465.29,214.6 461.99,216.53 462.81,212.8 459.96,210.27 463.76,209.9" fill="#fff" stroke="#008000" stroke-width="1.0"/>
<polygon points="478.44,199.4 479.97,202.9 483.77,203.27 480.92,205.8 481.73,209.53 478.44,207.6 475.15,209.53 475.97,205.8 473.12,203.27 476.91,202.9" fill="#fff" stroke="#008000" stroke-width="1.0"/>
<polyline points="123.2,301.3 125.83,301.28 128.46,301.27 131.09,301.25 133.73,301.23 136.36,301.22 138.99,301.2 141.62,301.18 144.25,301.17 146.88,301.15 149.51,301.13 152.15,301.12 154.78,301.1 157.41,301.08 160.04,301.07 162.67,301.05 165.3,301.03 167.93,301.02 170.57,301 173.2,300.98 175.83,300.97 178.46,300.95 181.09,300.93 183.72,300.92 186.35,300.9 188.99,300.88 191.62,300.87 194.25,300.85 196.88,300.83 199.51,300.82 202.14,300.8 204.77,300.78 207.41,300.77 210.04,300.75 212.67,300.73 215.3,300.72 217.93,300.7 220.56,300.68 223.19,300.67 225.83,300.65 228.46,300.63 231.09,300.62 233.72,300.6 236.35,300.58 238.98,300.57 241.61,300.55 244.25,300.53 246.88,300.52 249.51,300.5 252.14,300.48 254.77,300.47 257.4,300.45 260.03,300.43 262.67,300.42 265.3,300.4 267.93,300.38 270.56,300.37 273.19,300.35 275.82,300.33 278.45,300.32 281.09,300.3 283.72,300 286.35,299.7 288.98,299.4 291.61,299.1 294.24,298.8 296.87,298.5 299.51,298.2 302.14,297.9 304.77,297.6 307.4,297.3 310.03,296.9 312.66,296.5 315.29,296.1 317.93,295.7 320.56,295.3 323.19,294.9 325.82,294.5 328.45,294.1 331.08,293.7 333.71,293.3 336.35,293.28 338.98,293.25 341.61,293.23 344.24,293.2 346.87,293.18 349.5,293.15 352.13,293.12 354.77,293.1 357.4,293.07 360.03,293.05 362.66,293.03 365.29,293 367.92,292.98 370.55,292.95 373.19,292.93 375.82,292.9 378.45,292.88 381.08,292.85 383.71,292.82 386.34,292.8 388.97,292.7 391.61,292.6 394.24,292.5 396.87,292.4 399.5,292.3 402.13,292.2 404.76,292.1 407.39,292 410.03,291.9 412.66,291.8 415.29,291.7 417.92,291.6 420.55,291.5 423.18,291.4 425.81,291.3 428.45,291.02 431.08,290.74 433.71,290.46 436.34,290.18 438.97,289.9 441.6,289.46 444.23,289.02 446.87,288.58 449.5,288.14 452.13,287.7 454.76,286.72 457.39,285.74 460.02,284.76 462.65,283.78 465.29,282.8 467.92,278.9 470.55,275 473.18,271.1 475.81,267.2 478.44,263.3 481.07,251.63 483.71,239.97 486.34,228.3" fill="none" stroke="#0000cc" stroke-width="1.0"/>
<rect x="119.3" y="297.4" width="7.8" height="7.8" fill="#fff" stroke="#0000cc" stroke-width="1.0"/>
<rect x="132.46" y="297.32" width="7.8" height="7.8" fill="#fff" stroke="#0000cc" stroke-width="1.0"/>
<rect x="145.61" y="297.23" width="7.8" height="7.8" fill="#fff" stroke="#0000cc" stroke-width="1.0"/>
<rect x="158.77" y="297.15" width="7.8" height="7.8" fill="#fff" stroke="#0000cc" stroke-width="1.0"/>
<rect x="171.93" y="297.07" width="7.8" height="7.8" fill="#fff" stroke="#0000cc" stroke-width="1.0"/>
<rect x="185.09" y="296.98" width="7.8" height="7.8" fill="#fff" stroke="#0000cc" stroke-width="1.0"/>
<rect x="198.24" y="296.9" width="7.8" height="7.8" fill="#fff" stroke="#0000cc" stroke-width="1.0"/>
<rect x="211.4" y="296.82" width="7.8" height="7.8" fill="#fff" stroke="#0000cc" stroke-width="1.0"/>
<rect x="224.56" y="296.73" width="7.8" height="7.8" fill="#fff" stroke="#0000cc" stroke-width="1.0"/>
<rect x="237.71" y="296.65" width="7.8" height="7.8" fill="#fff" stroke="#0000cc" stroke-width="1.0"/>
<rect x="250.87" y="296.57" width="7.8" height="7.8" fill="#fff" stroke="#0000cc" stroke-width="1.0"/>
<rect x="264.03" y="296.48" width="7.8" height="7.8" fill="#fff" stroke="#0000cc" stroke-width="1.0"/>
<rect x="277.19" y="296.4" width="7.8" height="7.8" fill="#fff" stroke="#0000cc" stroke-width="1.0"/>
<rect x="290.34" y="294.9" width="7.8" height="7.8" fill="#fff" stroke="#0000cc" stroke-width="1.0"/>
<rect x="303.5" y="293.4" width="7.8" height="7.8" fill="#fff" stroke="#0000cc" stroke-width="1.0"/>
<rect x="316.66" y="291.4" width="7.8" height="7.8" fill="#fff" stroke="#0000cc" stroke-width="1.0"/>
<rect x="329.81" y="289.4" width="7.8" height="7.8" fill="#fff" stroke="#0000cc" stroke-width="1.0"/>
<rect x="342.97" y="289.28" width="7.8" height="7.8" fill="#fff" stroke="#0000cc" stroke-width="1.0"/>
<rect x="356.13" y="289.15" width="7.8" height="7.8" fill="#fff" stroke="#0000cc" stroke-width="1.0"/>
<rect x="369.29" y="289.03" width="7.8" height="7.8" fill="#fff" stroke="#0000cc" stroke-width="1.0"/>
<rect x="382.44" y="288.9" width="7.8" height="7.8" fill="#fff" stroke="#0000cc" stroke-width="1.0"/>
<rect x="395.6" y="288.4" width="7.8" height="7.8" fill="#fff" stroke="#0000cc" stroke-width="1.0"/>
<rect x="408.76" y="287.9" width="7.8" height="7.8" fill="#fff" stroke="#0000cc" stroke-width="1.0"/>
<rect x="421.91" y="287.4" width="7.8" height="7.8" fill="#fff" stroke="#0000cc" stroke-width="1.0"/>
<rect x="435.07" y="286" width="7.8" height="7.8" fill="#fff" stroke="#0000cc" stroke-width="1.0"/>
<rect x="448.23" y="283.8" width="7.8" height="7.8" fill="#fff" stroke="#0000cc" stroke-width="1.0"/>
<rect x="461.39" y="278.9" width="7.8" height="7.8" fill="#fff" stroke="#0000cc" stroke-width="1.0"/>
<rect x="474.54" y="259.4" width="7.8" height="7.8" fill="#fff" stroke="#0000cc" stroke-width="1.0"/>
<polyline points="123.2,305.3 125.83,305.28 128.46,305.27 131.09,305.25 133.73,305.23 136.36,305.22 138.99,305.2 141.62,305.18 144.25,305.17 146.88,305.15 149.51,305.13 152.15,305.12 154.78,305.1 157.41,305.08 160.04,305.07 162.67,305.05 165.3,305.03 167.93,305.02 170.57,305 173.2,304.98 175.83,304.97 178.46,304.95 181.09,304.93 183.72,304.92 186.35,304.9 188.99,304.88 191.62,304.87 194.25,304.85 196.88,304.83 199.51,304.82 202.14,304.8 204.77,304.78 207.41,304.77 210.04,304.75 212.67,304.73 215.3,304.72 217.93,304.7 220.56,304.68 223.19,304.67 225.83,304.65 228.46,304.63 231.09,304.62 233.72,304.6 236.35,304.58 238.98,304.57 241.61,304.55 244.25,304.53 246.88,304.52 249.51,304.5 252.14,304.48 254.77,304.47 257.4,304.45 260.03,304.43 262.67,304.42 265.3,304.4 267.93,304.38 270.56,304.37 273.19,304.35 275.82,304.33 278.45,304.32 281.09,304.3 283.72,304.1 286.35,303.9 288.98,303.7 291.61,303.5 294.24,303.3 296.87,303.1 299.51,302.9 302.14,302.7 304.77,302.5 307.4,302.3 310.03,302.1 312.66,301.9 315.29,301.7 317.93,301.5 320.56,301.3 323.19,301.28 325.82,301.26 328.45,301.24 331.08,301.22 333.71,301.2 336.35,301.18 338.98,301.16 341.61,301.14 344.24,301.12 346.87,301.1 349.5,301.08 352.13,301.06 354.77,301.04 357.4,301.02 360.03,301 362.66,300.98 365.29,300.96 367.92,300.94 370.55,300.92 373.19,300.9 375.82,300.88 378.45,300.86 381.08,300.84 383.71,300.82 386.34,300.8 388.97,300.73 391.61,300.65 394.24,300.57 396.87,300.5 399.5,300.43 402.13,300.35 404.76,300.28 407.39,300.2 410.03,300.12 412.66,300.05 415.29,299.98 417.92,299.9 420.55,299.82 423.18,299.75 425.81,299.68 428.45,299.6 431.08,299.53 433.71,299.45 436.34,299.38 438.97,299.3 441.6,298.7 444.23,298.1 446.87,297.5 449.5,296.9 452.13,296.3 454.76,295.7 457.39,295.1 460.02,294.5 462.65,293.9 465.29,293.3 467.92,289.3 470.55,285.3 473.18,281.3 475.81,277.3 478.44,273.3 481.07,262.63 483.71,251.97 486.34,241.3" fill="none" stroke="#0000cc" stroke-width="1.0"/>
<circle cx="123.2" cy="305.3" r="4.5" fill="#fff" stroke="#0000cc" stroke-width="1.0"/>
<circle cx="136.36" cy="305.22" r="4.5" fill="#fff" stroke="#0000cc" stroke-width="1.0"/>
<circle cx="149.51" cy="305.13" r="4.5" fill="#fff" stroke="#0000cc" stroke-width="1.0"/>
<circle cx="162.67" cy="305.05" r="4.5" fill="#fff" stroke="#0000cc" stroke-width="1.0"/>
<circle cx="175.83" cy="304.97" r="4.5" fill="#fff" stroke="#0000cc" stroke-width="1.0"/>
<circle cx="188.99" cy="304.88" r="4.5" fill="#fff" stroke="#0000cc" stroke-width="1.0"/>
<circle cx="202.14" cy="304.8" r="4.5" fill="#fff" stroke="#0000cc" stroke-width="1.0"/>
<circle cx="215.3" cy="304.72" r="4.5" fill="#fff" stroke="#0000cc" stroke-width="1.0"/>
<circle cx="228.46" cy="304.63" r="4.5" fill="#fff" stroke="#0000cc" stroke-width="1.0"/>
<circle cx="241.61" cy="304.55" r="4.5" fill="#fff" stroke="#0000cc" stroke-width="1.0"/>
<circle cx="254.77" cy="304.47" r="4.5" fill="#fff" stroke="#0000cc" stroke-width="1.0"/>
<circle cx="267.93" cy="304.38" r="4.5" fill="#fff" stroke="#0000cc" stroke-width="1.0"/>
<circle cx="281.09" cy="304.3" r="4.5" fill="#fff" stroke="#0000cc" stroke-width="1.0"/>
<circle cx="294.24" cy="303.3" r="4.5" fill="#fff" stroke="#0000cc" stroke-width="1.0"/>
<circle cx="307.4" cy="302.3" r="4.5" fill="#fff" stroke="#0000cc" stroke-width="1.0"/>
<circle cx="320.56" cy="301.3" r="4.5" fill="#fff" stroke="#0000cc" stroke-width="1.0"/>
<circle cx="333.71" cy="301.2" r="4.5" fill="#fff" stroke="#0000cc" stroke-width="1.0"/>
<circle cx="346.87" cy="301.1" r="4.5" fill="#fff" stroke="#0000cc" stroke-width="1.0"/>
<circle cx="360.03" cy="301" r="4.5" fill="#fff" stroke="#0000cc" stroke-width="1.0"/>
<circle cx="373.19" cy="300.9" r="4.5" fill="#fff" stroke="#0000cc" stroke-width="1.0"/>
<circle cx="386.34" cy="300.8" r="4.5" fill="#fff" stroke="#0000cc" stroke-width="1.0"/>
<circle cx="399.5" cy="300.43" r="4.5" fill="#fff" stroke="#0000cc" stroke-width="1.0"/>
<circle cx="412.66" cy="300.05" r="4.5" fill="#fff" stroke="#0000cc" stroke-width="1.0"/>
<circle cx="425.81" cy="299.68" r="4.5" fill="#fff" stroke="#0000cc" stroke-width="1.0"/>
<circle cx="438.97" cy="299.3" r="4.5" fill="#fff" stroke="#0000cc" stroke-width="1.0"/>
<circle cx="452.13" cy="296.3" r="4.5" fill="#fff" stroke="#0000cc" stroke-width="1.0"/>
<circle cx="465.29" cy="293.3" r="4.5" fill="#fff" stroke="#0000cc" stroke-width="1.0"/>
<circle cx="478.44" cy="273.3" r="4.5" fill="#fff" stroke="#0000cc" stroke-width="1.0"/>
<polyline points="123.2,298.3 125.83,298.29 128.46,298.28 131.09,298.28 133.73,298.27 136.36,298.26 138.99,298.25 141.62,298.24 144.25,298.23 146.88,298.23 149.51,298.22 152.15,298.21 154.78,298.2 157.41,298.19 160.04,298.18 162.67,298.18 165.3,298.17 167.93,298.16 170.57,298.15 173.2,298.14 175.83,298.13 178.46,298.12 181.09,298.12 183.72,298.11 186.35,298.1 188.99,298.09 191.62,298.08 194.25,298.07 196.88,298.07 199.51,298.06 202.14,298.05 204.77,298.04 207.41,298.03 210.04,298.03 212.67,298.02 215.3,298.01 217.93,298 220.56,297.99 223.19,297.98 225.83,297.98 228.46,297.97 231.09,297.96 233.72,297.95 236.35,297.94 238.98,297.93 241.61,297.93 244.25,297.92 246.88,297.91 249.51,297.9 252.14,297.89 254.77,297.88 257.4,297.88 260.03,297.87 262.67,297.86 265.3,297.85 267.93,297.84 270.56,297.83 273.19,297.82 275.82,297.82 278.45,297.81 281.09,297.8 283.72,297.78 286.35,297.75 288.98,297.73 291.61,297.71 294.24,297.69 296.87,297.67 299.51,297.64 302.14,297.62 304.77,297.6 307.4,297.58 310.03,297.55 312.66,297.53 315.29,297.51 317.93,297.49 320.56,297.46 323.19,297.44 325.82,297.42 328.45,297.4 331.08,297.37 333.71,297.35 336.35,297.33 338.98,297.31 341.61,297.28 344.24,297.26 346.87,297.24 349.5,297.22 352.13,297.19 354.77,297.17 357.4,297.15 360.03,297.12 362.66,297.1 365.29,297.08 367.92,297.06 370.55,297.04 373.19,297.01 375.82,296.99 378.45,296.97 381.08,296.95 383.71,296.92 386.34,296.9 388.97,296.82 391.61,296.74 394.24,296.66 396.87,296.58 399.5,296.5 402.13,296.42 404.76,296.34 407.39,296.26 410.03,296.18 412.66,296.1 415.29,296.02 417.92,295.94 420.55,295.86 423.18,295.78 425.81,295.7 428.45,295.62 431.08,295.54 433.71,295.46 436.34,295.38 438.97,295.3 441.6,294.6 444.23,293.9 446.87,293.2 449.5,292.5 452.13,291.8 454.76,291.1 457.39,290.4 460.02,289.7 462.65,289 465.29,288.3 467.92,284.1 470.55,279.9 473.18,275.7 475.81,271.5 478.44,267.3 481.07,255.97 483.71,244.63 486.34,233.3" fill="none" stroke="#0000cc" stroke-width="1.0"/>
<polygon points="123.2,292.5 128.4,301.2 118,301.2" fill="#fff" stroke="#0000cc" stroke-width="1.0"/>
<polygon points="136.36,292.46 141.56,301.16 131.16,301.16" fill="#fff" stroke="#0000cc" stroke-width="1.0"/>
<polygon points="149.51,292.42 154.71,301.12 144.31,301.12" fill="#fff" stroke="#0000cc" stroke-width="1.0"/>
<polygon points="162.67,292.38 167.87,301.07 157.47,301.07" fill="#fff" stroke="#0000cc" stroke-width="1.0"/>
<polygon points="175.83,292.33 181.03,301.03 170.63,301.03" fill="#fff" stroke="#0000cc" stroke-width="1.0"/>
<polygon points="188.99,292.29 194.19,300.99 183.79,300.99" fill="#fff" stroke="#0000cc" stroke-width="1.0"/>
<polygon points="202.14,292.25 207.34,300.95 196.94,300.95" fill="#fff" stroke="#0000cc" stroke-width="1.0"/>
<polygon points="215.3,292.21 220.5,300.91 210.1,300.91" fill="#fff" stroke="#0000cc" stroke-width="1.0"/>
<polygon points="228.46,292.17 233.66,300.87 223.26,300.87" fill="#fff" stroke="#0000cc" stroke-width="1.0"/>
<polygon points="241.61,292.12 246.81,300.82 236.41,300.82" fill="#fff" stroke="#0000cc" stroke-width="1.0"/>
<polygon points="254.77,292.08 259.97,300.78 249.57,300.78" fill="#fff" stroke="#0000cc" stroke-width="1.0"/>
<polygon points="267.93,292.04 273.13,300.74 262.73,300.74" fill="#fff" stroke="#0000cc" stroke-width="1.0"/>
<polygon points="281.09,292 286.29,300.7 275.89,300.7" fill="#fff" stroke="#0000cc" stroke-width="1.0"/>
<polygon points="294.24,291.89 299.44,300.59 289.04,300.59" fill="#fff" stroke="#0000cc" stroke-width="1.0"/>
<polygon points="307.4,291.78 312.6,300.48 302.2,300.48" fill="#fff" stroke="#0000cc" stroke-width="1.0"/>
<polygon points="320.56,291.66 325.76,300.36 315.36,300.36" fill="#fff" stroke="#0000cc" stroke-width="1.0"/>
<polygon points="333.71,291.55 338.91,300.25 328.51,300.25" fill="#fff" stroke="#0000cc" stroke-width="1.0"/>
<polygon points="346.87,291.44 352.07,300.14 341.67,300.14" fill="#fff" stroke="#0000cc" stroke-width="1.0"/>
<polygon points="360.03,291.32 365.23,300.02 354.83,300.02" fill="#fff" stroke="#0000cc" stroke-width="1.0"/>
<polygon points="373.19,291.21 378.39,299.91 367.99,299.91" fill="#fff" stroke="#0000cc" stroke-width="1.0"/>
<polygon points="386.34,291.1 391.54,299.8 381.14,299.8" fill="#fff" stroke="#0000cc" stroke-width="1.0"/>
<polygon points="399.5,290.7 404.7,299.4 394.3,299.4" fill="#fff" stroke="#0000cc" stroke-width="1.0"/>
<polygon points="412.66,290.3 417.86,299 407.46,299" fill="#fff" stroke="#0000cc" stroke-width="1.0"/>
<polygon points="425.81,289.9 431.01,298.6 420.61,298.6" fill="#fff" stroke="#0000cc" stroke-width="1.0"/>
<polygon points="438.97,289.5 444.17,298.2 433.77,298.2" fill="#fff" stroke="#0000cc" stroke-width="1.0"/>
<polygon points="452.13,286 457.33,294.7 446.93,294.7" fill="#fff" stroke="#0000cc" stroke-width="1.0"/>
<polygon points="465.29,282.5 470.49,291.2 460.09,291.2" fill="#fff" stroke="#0000cc" stroke-width="1.0"/>
<polygon points="478.44,261.5 483.64,270.2 473.24,270.2" fill="#fff" stroke="#0000cc" stroke-width="1.0"/>
<polyline points="123.2,303.3 125.83,303.29 128.46,303.28 131.09,303.28 133.73,303.27 136.36,303.26 138.99,303.25 141.62,303.24 144.25,303.23 146.88,303.23 149.51,303.22 152.15,303.21 154.78,303.2 157.41,303.19 160.04,303.18 162.67,303.18 165.3,303.17 167.93,303.16 170.57,303.15 173.2,303.14 175.83,303.13 178.46,303.12 181.09,303.12 183.72,303.11 186.35,303.1 188.99,303.09 191.62,303.08 194.25,303.07 196.88,303.07 199.51,303.06 202.14,303.05 204.77,303.04 207.41,303.03 210.04,303.03 212.67,303.02 215.3,303.01 217.93,303 220.56,302.99 223.19,302.98 225.83,302.98 228.46,302.97 231.09,302.96 233.72,302.95 236.35,302.94 238.98,302.93 241.61,302.93 244.25,302.92 246.88,302.91 249.51,302.9 252.14,302.89 254.77,302.88 257.4,302.88 260.03,302.87 262.67,302.86 265.3,302.85 267.93,302.84 270.56,302.83 273.19,302.82 275.82,302.82 278.45,302.81 281.09,302.8 283.72,302.67 286.35,302.53 288.98,302.4 291.61,302.27 294.24,302.13 296.87,302 299.51,301.87 302.14,301.73 304.77,301.6 307.4,301.47 310.03,301.33 312.66,301.2 315.29,301.07 317.93,300.93 320.56,300.8 323.19,300.78 325.82,300.76 328.45,300.74 331.08,300.72 333.71,300.7 336.35,300.68 338.98,300.66 341.61,300.64 344.24,300.62 346.87,300.6 349.5,300.58 352.13,300.56 354.77,300.54 357.4,300.52 360.03,300.5 362.66,300.48 365.29,300.46 367.92,300.44 370.55,300.42 373.19,300.4 375.82,300.38 378.45,300.36 381.08,300.34 383.71,300.32 386.34,300.3 388.97,300.23 391.61,300.15 394.24,300.07 396.87,300 399.5,299.93 402.13,299.85 404.76,299.78 407.39,299.7 410.03,299.62 412.66,299.55 415.29,299.48 417.92,299.4 420.55,299.32 423.18,299.25 425.81,299.18 428.45,299.1 431.08,299.03 433.71,298.95 436.34,298.88 438.97,298.8 441.6,298.05 444.23,297.3 446.87,296.55 449.5,295.8 452.13,295.05 454.76,294.3 457.39,293.55 460.02,292.8 462.65,292.05 465.29,291.3 467.92,287.3 470.55,283.3 473.18,279.3 475.81,275.3 478.44,271.3 481.07,260.63 483.71,249.97 486.34,239.3" fill="none" stroke="#0000cc" stroke-width="1.0"/>
<polygon points="123.2,309.1 128.4,300.4 118,300.4" fill="#fff" stroke="#0000cc" stroke-width="1.0"/>
<polygon points="136.36,309.06 141.56,300.36 131.16,300.36" fill="#fff" stroke="#0000cc" stroke-width="1.0"/>
<polygon points="149.51,309.02 154.71,300.32 144.31,300.32" fill="#fff" stroke="#0000cc" stroke-width="1.0"/>
<polygon points="162.67,308.98 167.87,300.28 157.47,300.28" fill="#fff" stroke="#0000cc" stroke-width="1.0"/>
<polygon points="175.83,308.93 181.03,300.23 170.63,300.23" fill="#fff" stroke="#0000cc" stroke-width="1.0"/>
<polygon points="188.99,308.89 194.19,300.19 183.79,300.19" fill="#fff" stroke="#0000cc" stroke-width="1.0"/>
<polygon points="202.14,308.85 207.34,300.15 196.94,300.15" fill="#fff" stroke="#0000cc" stroke-width="1.0"/>
<polygon points="215.3,308.81 220.5,300.11 210.1,300.11" fill="#fff" stroke="#0000cc" stroke-width="1.0"/>
<polygon points="228.46,308.77 233.66,300.07 223.26,300.07" fill="#fff" stroke="#0000cc" stroke-width="1.0"/>
<polygon points="241.61,308.73 246.81,300.03 236.41,300.03" fill="#fff" stroke="#0000cc" stroke-width="1.0"/>
<polygon points="254.77,308.68 259.97,299.98 249.57,299.98" fill="#fff" stroke="#0000cc" stroke-width="1.0"/>
<polygon points="267.93,308.64 273.13,299.94 262.73,299.94" fill="#fff" stroke="#0000cc" stroke-width="1.0"/>
<polygon points="281.09,308.6 286.29,299.9 275.89,299.9" fill="#fff" stroke="#0000cc" stroke-width="1.0"/>
<polygon points="294.24,307.93 299.44,299.23 289.04,299.23" fill="#fff" stroke="#0000cc" stroke-width="1.0"/>
<polygon points="307.4,307.27 312.6,298.57 302.2,298.57" fill="#fff" stroke="#0000cc" stroke-width="1.0"/>
<polygon points="320.56,306.6 325.76,297.9 315.36,297.9" fill="#fff" stroke="#0000cc" stroke-width="1.0"/>
<polygon points="333.71,306.5 338.91,297.8 328.51,297.8" fill="#fff" stroke="#0000cc" stroke-width="1.0"/>
<polygon points="346.87,306.4 352.07,297.7 341.67,297.7" fill="#fff" stroke="#0000cc" stroke-width="1.0"/>
<polygon points="360.03,306.3 365.23,297.6 354.83,297.6" fill="#fff" stroke="#0000cc" stroke-width="1.0"/>
<polygon points="373.19,306.2 378.39,297.5 367.99,297.5" fill="#fff" stroke="#0000cc" stroke-width="1.0"/>
<polygon points="386.34,306.1 391.54,297.4 381.14,297.4" fill="#fff" stroke="#0000cc" stroke-width="1.0"/>
<polygon points="399.5,305.73 404.7,297.03 394.3,297.03" fill="#fff" stroke="#0000cc" stroke-width="1.0"/>
<polygon points="412.66,305.35 417.86,296.65 407.46,296.65" fill="#fff" stroke="#0000cc" stroke-width="1.0"/>
<polygon points="425.81,304.98 431.01,296.28 420.61,296.28" fill="#fff" stroke="#0000cc" stroke-width="1.0"/>
<polygon points="438.97,304.6 444.17,295.9 433.77,295.9" fill="#fff" stroke="#0000cc" stroke-width="1.0"/>
<polygon points="452.13,300.85 457.33,292.15 446.93,292.15" fill="#fff" stroke="#0000cc" stroke-width="1.0"/>
<polygon points="465.29,297.1 470.49,288.4 460.09,288.4" fill="#fff" stroke="#0000cc" stroke-width="1.0"/>
<polygon points="478.44,277.1 483.64,268.4 473.24,268.4" fill="#fff" stroke="#0000cc" stroke-width="1.0"/>
<polyline points="123.2,302.3 125.83,302.3 128.46,302.3 131.09,302.3 133.73,302.3 136.36,302.3 138.99,302.3 141.62,302.3 144.25,302.3 146.88,302.3 149.51,302.3 152.15,302.3 154.78,302.3 157.41,302.3 160.04,302.3 162.67,302.3 165.3,302.3 167.93,302.3 170.57,302.3 173.2,302.3 175.83,302.3 178.46,302.3 181.09,302.3 183.72,302.3 186.35,302.3 188.99,302.3 191.62,302.3 194.25,302.3 196.88,302.3 199.51,302.3 202.14,302.3 204.77,302.3 207.41,302.3 210.04,302.3 212.67,302.3 215.3,302.3 217.93,302.3 220.56,302.3 223.19,302.3 225.83,302.3 228.46,302.3 231.09,302.3 233.72,302.3 236.35,302.3 238.98,302.3 241.61,302.3 244.25,302.3 246.88,302.3 249.51,302.3 252.14,302.3 254.77,302.3 257.4,302.3 260.03,302.3 262.67,302.3 265.3,302.3 267.93,302.3 270.56,302.3 273.19,302.3 275.82,302.3 278.45,302.3 281.09,302.3 283.72,302.17 286.35,302.03 288.98,301.9 291.61,301.77 294.24,301.63 296.87,301.5 299.51,301.37 302.14,301.23 304.77,301.1 307.4,300.97 310.03,300.83 312.66,300.7 315.29,300.57 317.93,300.43 320.56,300.3 323.19,300.28 325.82,300.26 328.45,300.24 331.08,300.22 333.71,300.2 336.35,300.18 338.98,300.16 341.61,300.14 344.24,300.12 346.87,300.1 349.5,300.08 352.13,300.06 354.77,300.04 357.4,300.02 360.03,300 362.66,299.98 365.29,299.96 367.92,299.94 370.55,299.92 373.19,299.9 375.82,299.88 378.45,299.86 381.08,299.84 383.71,299.82 386.34,299.8 388.97,299.73 391.61,299.65 394.24,299.57 396.87,299.5 399.5,299.43 402.13,299.35 404.76,299.28 407.39,299.2 410.03,299.12 412.66,299.05 415.29,298.98 417.92,298.9 420.55,298.82 423.18,298.75 425.81,298.68 428.45,298.6 431.08,298.53 433.71,298.45 436.34,298.38 438.97,298.3 441.6,297.5 444.23,296.7 446.87,295.9 449.5,295.1 452.13,294.3 454.76,293.5 457.39,292.7 460.02,291.9 462.65,291.1 465.29,290.3 467.92,286.5 470.55,282.7 473.18,278.9 475.81,275.1 478.44,271.3 481.07,260.63 483.71,249.97 486.34,239.3" fill="none" stroke="#0000cc" stroke-width="1.0"/>
<polygon points="117.4,302.3 126.1,297.1 126.1,307.5" fill="#fff" stroke="#0000cc" stroke-width="1.0"/>
<polygon points="130.56,302.3 139.26,297.1 139.26,307.5" fill="#fff" stroke="#0000cc" stroke-width="1.0"/>
<polygon points="143.71,302.3 152.41,297.1 152.41,307.5" fill="#fff" stroke="#0000cc" stroke-width="1.0"/>
<polygon points="156.87,302.3 165.57,297.1 165.57,307.5" fill="#fff" stroke="#0000cc" stroke-width="1.0"/>
<polygon points="170.03,302.3 178.73,297.1 178.73,307.5" fill="#fff" stroke="#0000cc" stroke-width="1.0"/>
<polygon points="183.19,302.3 191.89,297.1 191.89,307.5" fill="#fff" stroke="#0000cc" stroke-width="1.0"/>
<polygon points="196.34,302.3 205.04,297.1 205.04,307.5" fill="#fff" stroke="#0000cc" stroke-width="1.0"/>
<polygon points="209.5,302.3 218.2,297.1 218.2,307.5" fill="#fff" stroke="#0000cc" stroke-width="1.0"/>
<polygon points="222.66,302.3 231.36,297.1 231.36,307.5" fill="#fff" stroke="#0000cc" stroke-width="1.0"/>
<polygon points="235.81,302.3 244.51,297.1 244.51,307.5" fill="#fff" stroke="#0000cc" stroke-width="1.0"/>
<polygon points="248.97,302.3 257.67,297.1 257.67,307.5" fill="#fff" stroke="#0000cc" stroke-width="1.0"/>
<polygon points="262.13,302.3 270.83,297.1 270.83,307.5" fill="#fff" stroke="#0000cc" stroke-width="1.0"/>
<polygon points="275.29,302.3 283.99,297.1 283.99,307.5" fill="#fff" stroke="#0000cc" stroke-width="1.0"/>
<polygon points="288.44,301.63 297.14,296.43 297.14,306.83" fill="#fff" stroke="#0000cc" stroke-width="1.0"/>
<polygon points="301.6,300.97 310.3,295.77 310.3,306.17" fill="#fff" stroke="#0000cc" stroke-width="1.0"/>
<polygon points="314.76,300.3 323.46,295.1 323.46,305.5" fill="#fff" stroke="#0000cc" stroke-width="1.0"/>
<polygon points="327.91,300.2 336.61,295 336.61,305.4" fill="#fff" stroke="#0000cc" stroke-width="1.0"/>
<polygon points="341.07,300.1 349.77,294.9 349.77,305.3" fill="#fff" stroke="#0000cc" stroke-width="1.0"/>
<polygon points="354.23,300 362.93,294.8 362.93,305.2" fill="#fff" stroke="#0000cc" stroke-width="1.0"/>
<polygon points="367.39,299.9 376.09,294.7 376.09,305.1" fill="#fff" stroke="#0000cc" stroke-width="1.0"/>
<polygon points="380.54,299.8 389.24,294.6 389.24,305" fill="#fff" stroke="#0000cc" stroke-width="1.0"/>
<polygon points="393.7,299.43 402.4,294.23 402.4,304.62" fill="#fff" stroke="#0000cc" stroke-width="1.0"/>
<polygon points="406.86,299.05 415.56,293.85 415.56,304.25" fill="#fff" stroke="#0000cc" stroke-width="1.0"/>
<polygon points="420.01,298.68 428.71,293.48 428.71,303.88" fill="#fff" stroke="#0000cc" stroke-width="1.0"/>
<polygon points="433.17,298.3 441.87,293.1 441.87,303.5" fill="#fff" stroke="#0000cc" stroke-width="1.0"/>
<polygon points="446.33,294.3 455.03,289.1 455.03,299.5" fill="#fff" stroke="#0000cc" stroke-width="1.0"/>
<polygon points="459.49,290.3 468.19,285.1 468.19,295.5" fill="#fff" stroke="#0000cc" stroke-width="1.0"/>
<polygon points="472.64,271.3 481.34,266.1 481.34,276.5" fill="#fff" stroke="#0000cc" stroke-width="1.0"/>
<polyline points="123.2,303.8 125.83,303.79 128.46,303.78 131.09,303.78 133.73,303.77 136.36,303.76 138.99,303.75 141.62,303.74 144.25,303.73 146.88,303.73 149.51,303.72 152.15,303.71 154.78,303.7 157.41,303.69 160.04,303.68 162.67,303.68 165.3,303.67 167.93,303.66 170.57,303.65 173.2,303.64 175.83,303.63 178.46,303.62 181.09,303.62 183.72,303.61 186.35,303.6 188.99,303.59 191.62,303.58 194.25,303.57 196.88,303.57 199.51,303.56 202.14,303.55 204.77,303.54 207.41,303.53 210.04,303.53 212.67,303.52 215.3,303.51 217.93,303.5 220.56,303.49 223.19,303.48 225.83,303.48 228.46,303.47 231.09,303.46 233.72,303.45 236.35,303.44 238.98,303.43 241.61,303.43 244.25,303.42 246.88,303.41 249.51,303.4 252.14,303.39 254.77,303.38 257.4,303.38 260.03,303.37 262.67,303.36 265.3,303.35 267.93,303.34 270.56,303.33 273.19,303.32 275.82,303.32 278.45,303.31 281.09,303.3 283.72,303.13 286.35,302.97 288.98,302.8 291.61,302.63 294.24,302.47 296.87,302.3 299.51,302.13 302.14,301.97 304.77,301.8 307.4,301.63 310.03,301.47 312.66,301.3 315.29,301.13 317.93,300.97 320.56,300.8 323.19,300.78 325.82,300.76 328.45,300.74 331.08,300.72 333.71,300.7 336.35,300.68 338.98,300.66 341.61,300.64 344.24,300.62 346.87,300.6 349.5,300.58 352.13,300.56 354.77,300.54 357.4,300.52 360.03,300.5 362.66,300.48 365.29,300.46 367.92,300.44 370.55,300.42 373.19,300.4 375.82,300.38 378.45,300.36 381.08,300.34 383.71,300.32 386.34,300.3 388.97,300.2 391.61,300.1 394.24,300 396.87,299.9 399.5,299.8 402.13,299.7 404.76,299.6 407.39,299.5 410.03,299.4 412.66,299.3 415.29,299.2 417.92,299.1 420.55,299 423.18,298.9 425.81,298.8 428.45,298.7 431.08,298.6 433.71,298.5 436.34,298.4 438.97,298.3 441.6,297.4 444.23,296.5 446.87,295.6 449.5,294.7 452.13,293.8 454.76,292.9 457.39,292 460.02,291.1 462.65,290.2 465.29,289.3 467.92,284.9 470.55,280.5 473.18,276.1 475.81,271.7 478.44,267.3 481.07,252.97 483.71,238.63 486.34,224.3" fill="none" stroke="#0000cc" stroke-width="1.0"/>
<polygon points="129,303.8 120.3,298.6 120.3,309" fill="#fff" stroke="#0000cc" stroke-width="1.0"/>
<polygon points="142.16,303.76 133.46,298.56 133.46,308.96" fill="#fff" stroke="#0000cc" stroke-width="1.0"/>
<polygon points="155.31,303.72 146.61,298.52 146.61,308.92" fill="#fff" stroke="#0000cc" stroke-width="1.0"/>
<polygon points="168.47,303.68 159.77,298.48 159.77,308.88" fill="#fff" stroke="#0000cc" stroke-width="1.0"/>
<polygon points="181.63,303.63 172.93,298.43 172.93,308.83" fill="#fff" stroke="#0000cc" stroke-width="1.0"/>
<polygon points="194.79,303.59 186.09,298.39 186.09,308.79" fill="#fff" stroke="#0000cc" stroke-width="1.0"/>
<polygon points="207.94,303.55 199.24,298.35 199.24,308.75" fill="#fff" stroke="#0000cc" stroke-width="1.0"/>
<polygon points="221.1,303.51 212.4,298.31 212.4,308.71" fill="#fff" stroke="#0000cc" stroke-width="1.0"/>
<polygon points="234.26,303.47 225.56,298.27 225.56,308.67" fill="#fff" stroke="#0000cc" stroke-width="1.0"/>
<polygon points="247.41,303.43 238.71,298.23 238.71,308.62" fill="#fff" stroke="#0000cc" stroke-width="1.0"/>
<polygon points="260.57,303.38 251.87,298.18 251.87,308.58" fill="#fff" stroke="#0000cc" stroke-width="1.0"/>
<polygon points="273.73,303.34 265.03,298.14 265.03,308.54" fill="#fff" stroke="#0000cc" stroke-width="1.0"/>
<polygon points="286.89,303.3 278.19,298.1 278.19,308.5" fill="#fff" stroke="#0000cc" stroke-width="1.0"/>
<polygon points="300.04,302.47 291.34,297.27 291.34,307.67" fill="#fff" stroke="#0000cc" stroke-width="1.0"/>
<polygon points="313.2,301.63 304.5,296.43 304.5,306.83" fill="#fff" stroke="#0000cc" stroke-width="1.0"/>
<polygon points="326.36,300.8 317.66,295.6 317.66,306" fill="#fff" stroke="#0000cc" stroke-width="1.0"/>
<polygon points="339.51,300.7 330.81,295.5 330.81,305.9" fill="#fff" stroke="#0000cc" stroke-width="1.0"/>
<polygon points="352.67,300.6 343.97,295.4 343.97,305.8" fill="#fff" stroke="#0000cc" stroke-width="1.0"/>
<polygon points="365.83,300.5 357.13,295.3 357.13,305.7" fill="#fff" stroke="#0000cc" stroke-width="1.0"/>
<polygon points="378.99,300.4 370.29,295.2 370.29,305.6" fill="#fff" stroke="#0000cc" stroke-width="1.0"/>
<polygon points="392.14,300.3 383.44,295.1 383.44,305.5" fill="#fff" stroke="#0000cc" stroke-width="1.0"/>
<polygon points="405.3,299.8 396.6,294.6 396.6,305" fill="#fff" stroke="#0000cc" stroke-width="1.0"/>
<polygon points="418.46,299.3 409.76,294.1 409.76,304.5" fill="#fff" stroke="#0000cc" stroke-width="1.0"/>
<polygon points="431.61,298.8 422.91,293.6 422.91,304" fill="#fff" stroke="#0000cc" stroke-width="1.0"/>
<polygon points="444.77,298.3 436.07,293.1 436.07,303.5" fill="#fff" stroke="#0000cc" stroke-width="1.0"/>
<polygon points="457.93,293.8 449.23,288.6 449.23,299" fill="#fff" stroke="#0000cc" stroke-width="1.0"/>
<polygon points="471.09,289.3 462.39,284.1 462.39,294.5" fill="#fff" stroke="#0000cc" stroke-width="1.0"/>
<polygon points="484.24,267.3 475.54,262.1 475.54,272.5" fill="#fff" stroke="#0000cc" stroke-width="1.0"/>
<polyline points="123.2,304.8 125.83,304.78 128.46,304.77 131.09,304.75 133.73,304.73 136.36,304.72 138.99,304.7 141.62,304.68 144.25,304.67 146.88,304.65 149.51,304.63 152.15,304.62 154.78,304.6 157.41,304.58 160.04,304.57 162.67,304.55 165.3,304.53 167.93,304.52 170.57,304.5 173.2,304.48 175.83,304.47 178.46,304.45 181.09,304.43 183.72,304.42 186.35,304.4 188.99,304.38 191.62,304.37 194.25,304.35 196.88,304.33 199.51,304.32 202.14,304.3 204.77,304.28 207.41,304.27 210.04,304.25 212.67,304.23 215.3,304.22 217.93,304.2 220.56,304.18 223.19,304.17 225.83,304.15 228.46,304.13 231.09,304.12 233.72,304.1 236.35,304.08 238.98,304.07 241.61,304.05 244.25,304.03 246.88,304.02 249.51,304 252.14,303.98 254.77,303.97 257.4,303.95 260.03,303.93 262.67,303.92 265.3,303.9 267.93,303.88 270.56,303.87 273.19,303.85 275.82,303.83 278.45,303.82 281.09,303.8 283.72,303.57 286.35,303.33 288.98,303.1 291.61,302.87 294.24,302.63 296.87,302.4 299.51,302.17 302.14,301.93 304.77,301.7 307.4,301.47 310.03,301.23 312.66,301 315.29,300.77 317.93,300.53 320.56,300.3 323.19,300.28 325.82,300.26 328.45,300.24 331.08,300.22 333.71,300.2 336.35,300.18 338.98,300.16 341.61,300.14 344.24,300.12 346.87,300.1 349.5,300.08 352.13,300.06 354.77,300.04 357.4,300.02 360.03,300 362.66,299.98 365.29,299.96 367.92,299.94 370.55,299.92 373.19,299.9 375.82,299.88 378.45,299.86 381.08,299.84 383.71,299.82 386.34,299.8 388.97,299.62 391.61,299.45 394.24,299.28 396.87,299.1 399.5,298.93 402.13,298.75 404.76,298.57 407.39,298.4 410.03,298.23 412.66,298.05 415.29,297.88 417.92,297.7 420.55,297.53 423.18,297.35 425.81,297.18 428.45,297 431.08,296.82 433.71,296.65 436.34,296.48 438.97,296.3 441.6,295.3 444.23,294.3 446.87,293.3 449.5,292.3 452.13,291.3 454.76,289.7 457.39,288.1 460.02,286.5 462.65,284.9 465.29,283.3 467.92,277.5 470.55,271.7 473.18,265.9 475.81,260.1 478.44,254.3 481.07,242.97 483.71,231.63 486.34,220.3" fill="none" stroke="#0000cc" stroke-width="1.0"/>
<polygon points="123.2,299.4 128.6,304.8 123.2,310.2 117.8,304.8" fill="#fff" stroke="#0000cc" stroke-width="1.0"/>
<polygon points="136.36,299.32 141.76,304.72 136.36,310.12 130.96,304.72" fill="#fff" stroke="#0000cc" stroke-width="1.0"/>
<polygon points="149.51,299.23 154.91,304.63 149.51,310.03 144.11,304.63" fill="#fff" stroke="#0000cc" stroke-width="1.0"/>
<polygon points="162.67,299.15 168.07,304.55 162.67,309.95 157.27,304.55" fill="#fff" stroke="#0000cc" stroke-width="1.0"/>
<polygon points="175.83,299.07 181.23,304.47 175.83,309.87 170.43,304.47" fill="#fff" stroke="#0000cc" stroke-width="1.0"/>
<polygon points="188.99,298.98 194.39,304.38 188.99,309.78 183.59,304.38" fill="#fff" stroke="#0000cc" stroke-width="1.0"/>
<polygon points="202.14,298.9 207.54,304.3 202.14,309.7 196.74,304.3" fill="#fff" stroke="#0000cc" stroke-width="1.0"/>
<polygon points="215.3,298.82 220.7,304.22 215.3,309.62 209.9,304.22" fill="#fff" stroke="#0000cc" stroke-width="1.0"/>
<polygon points="228.46,298.73 233.86,304.13 228.46,309.53 223.06,304.13" fill="#fff" stroke="#0000cc" stroke-width="1.0"/>
<polygon points="241.61,298.65 247.01,304.05 241.61,309.45 236.21,304.05" fill="#fff" stroke="#0000cc" stroke-width="1.0"/>
<polygon points="254.77,298.57 260.17,303.97 254.77,309.37 249.37,303.97" fill="#fff" stroke="#0000cc" stroke-width="1.0"/>
<polygon points="267.93,298.48 273.33,303.88 267.93,309.28 262.53,303.88" fill="#fff" stroke="#0000cc" stroke-width="1.0"/>
<polygon points="281.09,298.4 286.49,303.8 281.09,309.2 275.69,303.8" fill="#fff" stroke="#0000cc" stroke-width="1.0"/>
<polygon points="294.24,297.23 299.64,302.63 294.24,308.03 288.84,302.63" fill="#fff" stroke="#0000cc" stroke-width="1.0"/>
<polygon points="307.4,296.07 312.8,301.47 307.4,306.87 302,301.47" fill="#fff" stroke="#0000cc" stroke-width="1.0"/>
<polygon points="320.56,294.9 325.96,300.3 320.56,305.7 315.16,300.3" fill="#fff" stroke="#0000cc" stroke-width="1.0"/>
<polygon points="333.71,294.8 339.11,300.2 333.71,305.6 328.31,300.2" fill="#fff" stroke="#0000cc" stroke-width="1.0"/>
<polygon points="346.87,294.7 352.27,300.1 346.87,305.5 341.47,300.1" fill="#fff" stroke="#0000cc" stroke-width="1.0"/>
<polygon points="360.03,294.6 365.43,300 360.03,305.4 354.63,300" fill="#fff" stroke="#0000cc" stroke-width="1.0"/>
<polygon points="373.19,294.5 378.59,299.9 373.19,305.3 367.79,299.9" fill="#fff" stroke="#0000cc" stroke-width="1.0"/>
<polygon points="386.34,294.4 391.74,299.8 386.34,305.2 380.94,299.8" fill="#fff" stroke="#0000cc" stroke-width="1.0"/>
<polygon points="399.5,293.53 404.9,298.93 399.5,304.32 394.1,298.93" fill="#fff" stroke="#0000cc" stroke-width="1.0"/>
<polygon points="412.66,292.65 418.06,298.05 412.66,303.45 407.26,298.05" fill="#fff" stroke="#0000cc" stroke-width="1.0"/>
<polygon points="425.81,291.78 431.21,297.18 425.81,302.57 420.41,297.18" fill="#fff" stroke="#0000cc" stroke-width="1.0"/>
<polygon points="438.97,290.9 444.37,296.3 438.97,301.7 433.57,296.3" fill="#fff" stroke="#0000cc" stroke-width="1.0"/>
<polygon points="452.13,285.9 457.53,291.3 452.13,296.7 446.73,291.3" fill="#fff" stroke="#0000cc" stroke-width="1.0"/>
<polygon points="465.29,277.9 470.69,283.3 465.29,288.7 459.89,283.3" fill="#fff" stroke="#0000cc" stroke-width="1.0"/>
<polygon points="478.44,248.9 483.84,254.3 478.44,259.7 473.04,254.3" fill="#fff" stroke="#0000cc" stroke-width="1.0"/>
<polyline points="123.2,301.6 125.83,301.6 128.46,301.59 131.09,301.59 133.73,301.58 136.36,301.58 138.99,301.57 141.62,301.56 144.25,301.56 146.88,301.56 149.51,301.55 152.15,301.55 154.78,301.54 157.41,301.54 160.04,301.53 162.67,301.53 165.3,301.52 167.93,301.52 170.57,301.51 173.2,301.5 175.83,301.5 178.46,301.5 181.09,301.49 183.72,301.49 186.35,301.48 188.99,301.48 191.62,301.47 194.25,301.47 196.88,301.46 199.51,301.46 202.14,301.45 204.77,301.44 207.41,301.44 210.04,301.44 212.67,301.43 215.3,301.43 217.93,301.42 220.56,301.42 223.19,301.41 225.83,301.41 228.46,301.4 231.09,301.4 233.72,301.39 236.35,301.38 238.98,301.38 241.61,301.38 244.25,301.37 246.88,301.37 249.51,301.36 252.14,301.36 254.77,301.35 257.4,301.35 260.03,301.34 262.67,301.34 265.3,301.33 267.93,301.32 270.56,301.32 273.19,301.31 275.82,301.31 278.45,301.31 281.09,301.3 283.72,301.2 286.35,301.1 288.98,301 291.61,300.9 294.24,300.8 296.87,300.7 299.51,300.6 302.14,300.5 304.77,300.4 307.4,300.3 310.03,300.2 312.66,300.1 315.29,300 317.93,299.9 320.56,299.8 323.19,299.78 325.82,299.76 328.45,299.74 331.08,299.72 333.71,299.7 336.35,299.68 338.98,299.66 341.61,299.64 344.24,299.62 346.87,299.6 349.5,299.58 352.13,299.56 354.77,299.54 357.4,299.52 360.03,299.5 362.66,299.48 365.29,299.46 367.92,299.44 370.55,299.42 373.19,299.4 375.82,299.38 378.45,299.36 381.08,299.34 383.71,299.32 386.34,299.3 388.97,299.25 391.61,299.2 394.24,299.15 396.87,299.1 399.5,299.05 402.13,299 404.76,298.95 407.39,298.9 410.03,298.85 412.66,298.8 415.29,298.75 417.92,298.7 420.55,298.65 423.18,298.6 425.81,298.55 428.45,298.5 431.08,298.45 433.71,298.4 436.34,298.35 438.97,298.3 441.6,298.28 444.23,298.26 446.87,298.24 449.5,298.22 452.13,298.2 454.76,298.18 457.39,298.16 460.02,298.14 462.65,298.12 465.29,298.1 467.92,296.38 470.55,294.66 473.18,292.94 475.81,291.22 478.44,289.5 481.07,281.77 483.71,274.03 486.34,266.3" fill="none" stroke="#0000cc" stroke-width="1.0"/>
<polygon points="123.2,296 124.73,299.5 128.53,299.87 125.67,302.4 126.49,306.13 123.2,304.2 119.91,306.13 120.73,302.4 117.87,299.87 121.67,299.5" fill="#fff" stroke="#0000cc" stroke-width="1.0"/>
<polygon points="136.36,295.98 137.89,299.47 141.68,299.84 138.83,302.38 139.65,306.11 136.36,304.18 133.07,306.11 133.88,302.38 131.03,299.84 134.83,299.47" fill="#fff" stroke="#0000cc" stroke-width="1.0"/>
<polygon points="149.51,295.95 151.04,299.45 154.84,299.82 151.99,302.35 152.81,306.08 149.51,304.15 146.22,306.08 147.04,302.35 144.19,299.82 147.99,299.45" fill="#fff" stroke="#0000cc" stroke-width="1.0"/>
<polygon points="162.67,295.93 164.2,299.42 168,299.79 165.14,302.33 165.96,306.06 162.67,304.13 159.38,306.06 160.2,302.33 157.35,299.79 161.14,299.42" fill="#fff" stroke="#0000cc" stroke-width="1.0"/>
<polygon points="175.83,295.9 177.36,299.4 181.15,299.77 178.3,302.3 179.12,306.03 175.83,304.1 172.54,306.03 173.36,302.3 170.5,299.77 174.3,299.4" fill="#fff" stroke="#0000cc" stroke-width="1.0"/>
<polygon points="188.99,295.88 190.51,299.37 194.31,299.74 191.46,302.28 192.28,306.01 188.99,304.08 185.69,306.01 186.51,302.28 183.66,299.74 187.46,299.37" fill="#fff" stroke="#0000cc" stroke-width="1.0"/>
<polygon points="202.14,295.85 203.67,299.35 207.47,299.72 204.62,302.25 205.43,305.98 202.14,304.05 198.85,305.98 199.67,302.25 196.82,299.72 200.61,299.35" fill="#fff" stroke="#0000cc" stroke-width="1.0"/>
<polygon points="215.3,295.82 216.83,299.32 220.63,299.69 217.77,302.23 218.59,305.96 215.3,304.03 212.01,305.96 212.83,302.23 209.97,299.69 213.77,299.32" fill="#fff" stroke="#0000cc" stroke-width="1.0"/>
<polygon points="228.46,295.8 229.99,299.3 233.78,299.67 230.93,302.2 231.75,305.93 228.46,304 225.17,305.93 225.98,302.2 223.13,299.67 226.93,299.3" fill="#fff" stroke="#0000cc" stroke-width="1.0"/>
<polygon points="241.61,295.77 243.14,299.27 246.94,299.64 244.09,302.18 244.91,305.91 241.61,303.98 238.32,305.91 239.14,302.18 236.29,299.64 240.09,299.27" fill="#fff" stroke="#0000cc" stroke-width="1.0"/>
<polygon points="254.77,295.75 256.3,299.25 260.1,299.62 257.24,302.15 258.06,305.88 254.77,303.95 251.48,305.88 252.3,302.15 249.45,299.62 253.24,299.25" fill="#fff" stroke="#0000cc" stroke-width="1.0"/>
<polygon points="267.93,295.72 269.46,299.22 273.25,299.59 270.4,302.13 271.22,305.86 267.93,303.93 264.64,305.86 265.46,302.13 262.6,299.59 266.4,299.22" fill="#fff" stroke="#0000cc" stroke-width="1.0"/>
<polygon points="281.09,295.7 282.61,299.2 286.41,299.57 283.56,302.1 284.38,305.83 281.09,303.9 277.79,305.83 278.61,302.1 275.76,299.57 279.56,299.2" fill="#fff" stroke="#0000cc" stroke-width="1.0"/>
<polygon points="294.24,295.2 295.77,298.7 299.57,299.07 296.72,301.6 297.53,305.33 294.24,303.4 290.95,305.33 291.77,301.6 288.92,299.07 292.71,298.7" fill="#fff" stroke="#0000cc" stroke-width="1.0"/>
<polygon points="307.4,294.7 308.93,298.2 312.73,298.57 309.87,301.1 310.69,304.83 307.4,302.9 304.11,304.83 304.93,301.1 302.07,298.57 305.87,298.2" fill="#fff" stroke="#0000cc" stroke-width="1.0"/>
<polygon points="320.56,294.2 322.09,297.7 325.88,298.07 323.03,300.6 323.85,304.33 320.56,302.4 317.27,304.33 318.08,300.6 315.23,298.07 319.03,297.7" fill="#fff" stroke="#0000cc" stroke-width="1.0"/>
<polygon points="333.71,294.1 335.24,297.6 339.04,297.97 336.19,300.5 337.01,304.23 333.71,302.3 330.42,304.23 331.24,300.5 328.39,297.97 332.19,297.6" fill="#fff" stroke="#0000cc" stroke-width="1.0"/>
<polygon points="346.87,294 348.4,297.5 352.2,297.87 349.34,300.4 350.16,304.13 346.87,302.2 343.58,304.13 344.4,300.4 341.55,297.87 345.34,297.5" fill="#fff" stroke="#0000cc" stroke-width="1.0"/>
<polygon points="360.03,293.9 361.56,297.4 365.35,297.77 362.5,300.3 363.32,304.03 360.03,302.1 356.74,304.03 357.56,300.3 354.7,297.77 358.5,297.4" fill="#fff" stroke="#0000cc" stroke-width="1.0"/>
<polygon points="373.19,293.8 374.71,297.3 378.51,297.67 375.66,300.2 376.48,303.93 373.19,302 369.89,303.93 370.71,300.2 367.86,297.67 371.66,297.3" fill="#fff" stroke="#0000cc" stroke-width="1.0"/>
<polygon points="386.34,293.7 387.87,297.2 391.67,297.57 388.82,300.1 389.63,303.83 386.34,301.9 383.05,303.83 383.87,300.1 381.02,297.57 384.81,297.2" fill="#fff" stroke="#0000cc" stroke-width="1.0"/>
<polygon points="399.5,293.45 401.03,296.95 404.83,297.32 401.97,299.85 402.79,303.58 399.5,301.65 396.21,303.58 397.03,299.85 394.17,297.32 397.97,296.95" fill="#fff" stroke="#0000cc" stroke-width="1.0"/>
<polygon points="412.66,293.2 414.19,296.7 417.98,297.07 415.13,299.6 415.95,303.33 412.66,301.4 409.37,303.33 410.18,299.6 407.33,297.07 411.13,296.7" fill="#fff" stroke="#0000cc" stroke-width="1.0"/>
<polygon points="425.81,292.95 427.34,296.45 431.14,296.82 428.29,299.35 429.11,303.08 425.81,301.15 422.52,303.08 423.34,299.35 420.49,296.82 424.29,296.45" fill="#fff" stroke="#0000cc" stroke-width="1.0"/>
<polygon points="438.97,292.7 440.5,296.2 444.3,296.57 441.44,299.1 442.26,302.83 438.97,300.9 435.68,302.83 436.5,299.1 433.65,296.57 437.44,296.2" fill="#fff" stroke="#0000cc" stroke-width="1.0"/>
<polygon points="452.13,292.6 453.66,296.1 457.45,296.47 454.6,299 455.42,302.73 452.13,300.8 448.84,302.73 449.66,299 446.8,296.47 450.6,296.1" fill="#fff" stroke="#0000cc" stroke-width="1.0"/>
<polygon points="465.29,292.5 466.81,296 470.61,296.37 467.76,298.9 468.58,302.63 465.29,300.7 461.99,302.63 462.81,298.9 459.96,296.37 463.76,296" fill="#fff" stroke="#0000cc" stroke-width="1.0"/>
<polygon points="478.44,283.9 479.97,287.4 483.77,287.77 480.92,290.3 481.73,294.03 478.44,292.1 475.15,294.03 475.97,290.3 473.12,287.77 476.91,287.4" fill="#fff" stroke="#0000cc" stroke-width="1.0"/>
</g>
<line x1="180.6" y1="26.8" x2="215" y2="26.8" stroke="#000" stroke-width="1.8"/>
<polygon points="174.6,26.8 183.1,24.2 183.1,29.4" fill="#000"/>
<line x1="412.8" y1="186.7" x2="447.5" y2="186.7" stroke="#008000" stroke-width="1.8"/>
<polygon points="406.8,186.7 415.3,184.1 415.3,189.3" fill="#008000"/>
<line x1="348.5" y1="276.7" x2="380.7" y2="276.7" stroke="#0000cc" stroke-width="1.8"/>
<polygon points="386.7,276.7 378.2,274.1 378.2,279.3" fill="#0000cc"/>
<line x1="117.2" y1="16" x2="491.6" y2="16" stroke="#111" stroke-width="1.3"/>
<line x1="117.2" y1="312.4" x2="491.6" y2="312.4" stroke="#111" stroke-width="1.3"/>
<line x1="123.2" y1="16" x2="123.2" y2="318.4" stroke="#111" stroke-width="1.3"/>
<line x1="491.6" y1="15.4" x2="491.6" y2="318.4" stroke="#0000cc" stroke-width="1.3"/>
<path d="M119.7 282.66H123.2M119.7 265.26H123.2M119.7 252.92H123.2M119.7 243.34H123.2M119.7 235.52H123.2M119.7 228.9H123.2M119.7 223.17H123.2M119.7 218.12H123.2M119.7 183.86H123.2M119.7 166.46H123.2M119.7 154.12H123.2M119.7 144.54H123.2M119.7 136.72H123.2M119.7 130.1H123.2M119.7 124.37H123.2M119.7 119.32H123.2M119.7 85.06H123.2M119.7 67.66H123.2M119.7 55.32H123.2M119.7 45.74H123.2M119.7 37.92H123.2M119.7 31.3H123.2M119.7 25.57H123.2M119.7 20.52H123.2M117 312.4H123.2M117 213.6H123.2M117 114.8H123.2M117 16H123.2" stroke="#111" stroke-width="1.3" fill="none"/>
<line x1="60.9" y1="15.4" x2="60.9" y2="313" stroke="#008000" stroke-width="1.3"/>
<path d="M57.4 290.09H60.9M57.4 277.05H60.9M57.4 267.79H60.9M57.4 260.61H60.9M57.4 254.74H60.9M57.4 249.78H60.9M57.4 245.48H60.9M57.4 241.69H60.9M57.4 215.99H60.9M57.4 202.95H60.9M57.4 193.69H60.9M57.4 186.51H60.9M57.4 180.64H60.9M57.4 175.68H60.9M57.4 171.38H60.9M57.4 167.59H60.9M57.4 141.89H60.9M57.4 128.85H60.9M57.4 119.59H60.9M57.4 112.41H60.9M57.4 106.54H60.9M57.4 101.58H60.9M57.4 97.28H60.9M57.4 93.49H60.9M57.4 67.79H60.9M57.4 54.75H60.9M57.4 45.49H60.9M57.4 38.31H60.9M57.4 32.44H60.9M57.4 27.48H60.9M57.4 23.18H60.9M57.4 19.39H60.9M54.7 312.4H60.9M54.7 238.3H60.9M54.7 164.2H60.9M54.7 90.1H60.9M54.7 16H60.9" stroke="#008000" stroke-width="1.3" fill="none"/>
<path d="M485.6 306.6H491.6M488.4 300.14H491.6M488.4 293.68H491.6M488.4 287.23H491.6M488.4 280.77H491.6M488.4 274.31H491.6M488.4 267.85H491.6M488.4 261.4H491.6M488.4 254.94H491.6M485.6 248.48H491.6M488.4 242.02H491.6M488.4 235.56H491.6M488.4 229.11H491.6M488.4 222.65H491.6M488.4 216.19H491.6M488.4 209.73H491.6M488.4 203.28H491.6M488.4 196.82H491.6M485.6 190.36H491.6M488.4 183.9H491.6M488.4 177.44H491.6M488.4 170.99H491.6M488.4 164.53H491.6M488.4 158.07H491.6M488.4 151.61H491.6M488.4 145.16H491.6M488.4 138.7H491.6M485.6 132.24H491.6M488.4 125.78H491.6M488.4 119.32H491.6M488.4 112.87H491.6M488.4 106.41H491.6M488.4 99.95H491.6M488.4 93.49H491.6M488.4 87.04H491.6M488.4 80.58H491.6M485.6 74.12H491.6M488.4 67.66H491.6M488.4 61.2H491.6M488.4 54.75H491.6M488.4 48.29H491.6M488.4 41.83H491.6M488.4 35.37H491.6M488.4 28.92H491.6M488.4 22.46H491.6M485.6 16H491.6" stroke="#0000cc" stroke-width="1.3" fill="none"/>
<path d="M123.2 312.4V318.4M149.51 312.4V315.6M175.83 312.4V318.4M202.14 312.4V315.6M228.46 312.4V318.4M254.77 312.4V315.6M281.09 312.4V318.4M307.4 312.4V315.6M333.71 312.4V318.4M360.03 312.4V315.6M386.34 312.4V318.4M412.66 312.4V315.6M438.97 312.4V318.4M465.29 312.4V315.6M491.6 312.4V318.4" stroke="#111" stroke-width="1.3" fill="none"/>
<text x="45.6" y="317.6" font-family="'Liberation Sans', Arial, sans-serif" font-weight="bold" font-size="14.5" fill="#008000" text-anchor="end">10</text>
<text x="46" y="309.4" font-family="'Liberation Sans', Arial, sans-serif" font-weight="bold" font-size="8.1" fill="#008000">1</text>
<text x="45.6" y="243.5" font-family="'Liberation Sans', Arial, sans-serif" font-weight="bold" font-size="14.5" fill="#008000" text-anchor="end">10</text>
<text x="46" y="235.3" font-family="'Liberation Sans', Arial, sans-serif" font-weight="bold" font-size="8.1" fill="#008000">2</text>
<text x="45.6" y="169.4" font-family="'Liberation Sans', Arial, sans-serif" font-weight="bold" font-size="14.5" fill="#008000" text-anchor="end">10</text>
<text x="46" y="161.2" font-family="'Liberation Sans', Arial, sans-serif" font-weight="bold" font-size="8.1" fill="#008000">3</text>
<text x="45.6" y="95.3" font-family="'Liberation Sans', Arial, sans-serif" font-weight="bold" font-size="14.5" fill="#008000" text-anchor="end">10</text>
<text x="46" y="87.1" font-family="'Liberation Sans', Arial, sans-serif" font-weight="bold" font-size="8.1" fill="#008000">4</text>
<text x="45.6" y="21.2" font-family="'Liberation Sans', Arial, sans-serif" font-weight="bold" font-size="14.5" fill="#008000" text-anchor="end">10</text>
<text x="46" y="13" font-family="'Liberation Sans', Arial, sans-serif" font-weight="bold" font-size="8.1" fill="#008000">5</text>
<text x="108.4" y="317.6" font-family="'Liberation Sans', Arial, sans-serif" font-weight="bold" font-size="14.5" fill="#000" text-anchor="end">10</text>
<text x="108.8" y="309.4" font-family="'Liberation Sans', Arial, sans-serif" font-weight="bold" font-size="8.1" fill="#000">1</text>
<text x="108.4" y="218.8" font-family="'Liberation Sans', Arial, sans-serif" font-weight="bold" font-size="14.5" fill="#000" text-anchor="end">10</text>
<text x="108.8" y="210.6" font-family="'Liberation Sans', Arial, sans-serif" font-weight="bold" font-size="8.1" fill="#000">2</text>
<text x="108.4" y="120" font-family="'Liberation Sans', Arial, sans-serif" font-weight="bold" font-size="14.5" fill="#000" text-anchor="end">10</text>
<text x="108.8" y="111.8" font-family="'Liberation Sans', Arial, sans-serif" font-weight="bold" font-size="8.1" fill="#000">3</text>
<text x="108.4" y="21.2" font-family="'Liberation Sans', Arial, sans-serif" font-weight="bold" font-size="14.5" fill="#000" text-anchor="end">10</text>
<text x="108.8" y="13" font-family="'Liberation Sans', Arial, sans-serif" font-weight="bold" font-size="8.1" fill="#000">4</text>
<text x="497.3" y="310.9" font-family="'Liberation Sans', Arial, sans-serif" font-weight="bold" font-size="14.5" fill="#0000cc">0.0</text>
<text x="497.3" y="252.78" font-family="'Liberation Sans', Arial, sans-serif" font-weight="bold" font-size="14.5" fill="#0000cc">0.5</text>
<text x="497.3" y="194.66" font-family="'Liberation Sans', Arial, sans-serif" font-weight="bold" font-size="14.5" fill="#0000cc">1.0</text>
<text x="497.3" y="136.54" font-family="'Liberation Sans', Arial, sans-serif" font-weight="bold" font-size="14.5" fill="#0000cc">1.5</text>
<text x="497.3" y="78.42" font-family="'Liberation Sans', Arial, sans-serif" font-weight="bold" font-size="14.5" fill="#0000cc">2.0</text>
<text x="497.3" y="20.3" font-family="'Liberation Sans', Arial, sans-serif" font-weight="bold" font-size="14.5" fill="#0000cc">2.5</text>
<text x="123.2" y="334" font-family="'Liberation Sans', Arial, sans-serif" font-weight="bold" font-size="14.5" fill="#000" text-anchor="middle">50</text>
<text x="175.83" y="334" font-family="'Liberation Sans', Arial, sans-serif" font-weight="bold" font-size="14.5" fill="#000" text-anchor="middle">100</text>
<text x="228.46" y="334" font-family="'Liberation Sans', Arial, sans-serif" font-weight="bold" font-size="14.5" fill="#000" text-anchor="middle">150</text>
<text x="281.09" y="334" font-family="'Liberation Sans', Arial, sans-serif" font-weight="bold" font-size="14.5" fill="#000" text-anchor="middle">200</text>
<text x="333.71" y="334" font-family="'Liberation Sans', Arial, sans-serif" font-weight="bold" font-size="14.5" fill="#000" text-anchor="middle">250</text>
<text x="386.34" y="334" font-family="'Liberation Sans', Arial, sans-serif" font-weight="bold" font-size="14.5" fill="#000" text-anchor="middle">300</text>
<text x="438.97" y="334" font-family="'Liberation Sans', Arial, sans-serif" font-weight="bold" font-size="14.5" fill="#000" text-anchor="middle">350</text>
<text x="491.6" y="334" font-family="'Liberation Sans', Arial, sans-serif" font-weight="bold" font-size="14.5" fill="#000" text-anchor="middle">400</text>
<text x="242.4" y="358.5" font-family="'Liberation Sans', Arial, sans-serif" font-weight="bold" font-size="16.5" fill="#000">Temperature (<tspan font-size="7" font-weight="normal" dy="-5.6">o</tspan><tspan dy="5.6">C)</tspan></text>
<text transform="translate(19.8,183.4) rotate(-90)" font-family="'Liberation Sans', Arial, sans-serif" font-weight="bold" font-size="16.5" fill="#008000" text-anchor="middle">Loss modulus (MPa)</text>
<text transform="translate(84.7,175.2) rotate(-90)" font-family="'Liberation Sans', Arial, sans-serif" font-weight="bold" font-size="16.75" fill="#000" text-anchor="middle">Storage modulus (MPa)</text>
<text transform="translate(529.6,167.6) rotate(90)" font-family="'Liberation Sans', Arial, sans-serif" font-weight="bold" font-size="18.1" fill="#0000cc" text-anchor="middle">tan delta</text>
<line x1="129.1" y1="122.7" x2="157.7" y2="122.7" stroke="#222" stroke-width="1.1"/>
<rect x="139.5" y="118.8" width="7.8" height="7.8" fill="#fff" stroke="#222" stroke-width="0.9"/>
<text x="162.2" y="127.5" font-family="'Liberation Sans', Arial, sans-serif" font-weight="bold" font-size="14.5" letter-spacing="0.27" fill="#000">ABTFCPI-0</text>
<line x1="253.4" y1="122.7" x2="281.7" y2="122.7" stroke="#222" stroke-width="1.1"/>
<circle cx="267.5" cy="122.7" r="4.5" fill="#fff" stroke="#222" stroke-width="0.9"/>
<text x="285.4" y="127.5" font-family="'Liberation Sans', Arial, sans-serif" font-weight="bold" font-size="14.5" letter-spacing="0.27" fill="#000">ABTFCPI-5</text>
<line x1="129.1" y1="141.8" x2="157.7" y2="141.8" stroke="#222" stroke-width="1.1"/>
<polygon points="143.4,136 148.6,144.7 138.2,144.7" fill="#fff" stroke="#222" stroke-width="0.9"/>
<text x="162.2" y="146.6" font-family="'Liberation Sans', Arial, sans-serif" font-weight="bold" font-size="14.5" letter-spacing="0.27" fill="#000">ABTFCPI-10</text>
<line x1="253.4" y1="141.8" x2="281.7" y2="141.8" stroke="#222" stroke-width="1.1"/>
<polygon points="267.5,147.6 272.7,138.9 262.3,138.9" fill="#fff" stroke="#222" stroke-width="0.9"/>
<text x="285.4" y="146.6" font-family="'Liberation Sans', Arial, sans-serif" font-weight="bold" font-size="14.5" letter-spacing="0.27" fill="#000">ABTFCPI-15</text>
<line x1="129.1" y1="160.9" x2="157.7" y2="160.9" stroke="#222" stroke-width="1.1"/>
<polygon points="137.6,160.9 146.3,155.7 146.3,166.1" fill="#fff" stroke="#222" stroke-width="0.9"/>
<text x="162.2" y="165.7" font-family="'Liberation Sans', Arial, sans-serif" font-weight="bold" font-size="14.5" letter-spacing="0.27" fill="#000">ABTFCPI-20</text>
<line x1="253.4" y1="160.9" x2="281.7" y2="160.9" stroke="#222" stroke-width="1.1"/>
<polygon points="273.3,160.9 264.6,155.7 264.6,166.1" fill="#fff" stroke="#222" stroke-width="0.9"/>
<text x="285.4" y="165.7" font-family="'Liberation Sans', Arial, sans-serif" font-weight="bold" font-size="14.5" letter-spacing="0.27" fill="#000">ABTFCPI-25</text>
<line x1="129.1" y1="180" x2="157.7" y2="180" stroke="#222" stroke-width="1.1"/>
<polygon points="143.4,174.6 148.8,180 143.4,185.4 138,180" fill="#fff" stroke="#222" stroke-width="0.9"/>
<text x="162.2" y="184.8" font-family="'Liberation Sans', Arial, sans-serif" font-weight="bold" font-size="14.5" letter-spacing="0.27" fill="#000">ABTFCPI-30</text>
<line x1="253.4" y1="180" x2="281.7" y2="180" stroke="#222" stroke-width="1.1"/>
<polygon points="267.5,174.4 269.03,177.9 272.83,178.27 269.97,180.8 270.79,184.53 267.5,182.6 264.21,184.53 265.03,180.8 262.17,178.27 265.97,177.9" fill="#fff" stroke="#222" stroke-width="0.9"/>
<text x="285.4" y="184.8" font-family="'Liberation Sans', Arial, sans-serif" font-weight="bold" font-size="14.5" letter-spacing="0.27" fill="#000">ABTFCPI-35</text>
</svg>
</body></html>
